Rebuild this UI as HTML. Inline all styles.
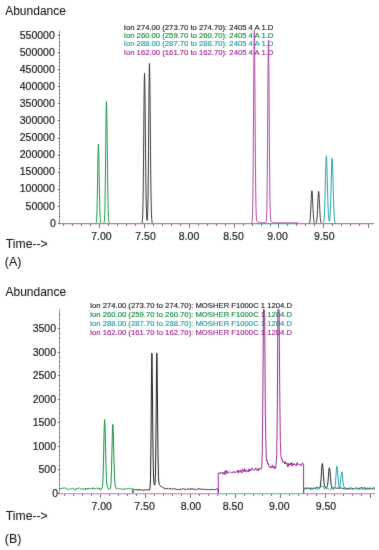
<!DOCTYPE html>
<html><head><meta charset="utf-8"><style>
html,body{margin:0;padding:0;background:#fff;width:379px;height:550px;overflow:hidden}
svg{display:block}
</style></head><body>
<svg width="379" height="550" viewBox="0 0 379 550" font-family="'Liberation Sans', Arial, sans-serif"><defs><filter id="soft" x="0" y="0" width="379" height="550" filterUnits="userSpaceOnUse" color-interpolation-filters="sRGB"><feConvolveMatrix order="3" kernelMatrix="0.012 0.055 0.012 0.055 0.732 0.055 0.012 0.055 0.012" edgeMode="duplicate" preserveAlpha="true"/></filter></defs><g filter="url(#soft)"><rect width="379" height="550" fill="#fff"/><text x="5.2" y="14.8" font-size="12" fill="#151515" stroke="#151515" stroke-width="0.06">Abundance</text>
<rect x="1.3" y="13.3" width="1" height="1" fill="#aaa"/>
<line x1="59.5" y1="30.5" x2="59.5" y2="223.5" stroke="#9a9a9a" stroke-width="1"/>
<line x1="58.0" y1="223.5" x2="60.0" y2="223.5" stroke="#555" stroke-width="1"/>
<line x1="59.0" y1="220.5" x2="60.0" y2="220.5" stroke="#555" stroke-width="1"/>
<line x1="59.0" y1="216.5" x2="60.0" y2="216.5" stroke="#555" stroke-width="1"/>
<line x1="59.0" y1="213.5" x2="60.0" y2="213.5" stroke="#555" stroke-width="1"/>
<line x1="59.0" y1="209.5" x2="60.0" y2="209.5" stroke="#555" stroke-width="1"/>
<line x1="58.0" y1="206.5" x2="60.0" y2="206.5" stroke="#555" stroke-width="1"/>
<line x1="59.0" y1="202.5" x2="60.0" y2="202.5" stroke="#555" stroke-width="1"/>
<line x1="59.0" y1="199.5" x2="60.0" y2="199.5" stroke="#555" stroke-width="1"/>
<line x1="59.0" y1="196.5" x2="60.0" y2="196.5" stroke="#555" stroke-width="1"/>
<line x1="59.0" y1="192.5" x2="60.0" y2="192.5" stroke="#555" stroke-width="1"/>
<line x1="58.0" y1="189.5" x2="60.0" y2="189.5" stroke="#555" stroke-width="1"/>
<line x1="59.0" y1="185.5" x2="60.0" y2="185.5" stroke="#555" stroke-width="1"/>
<line x1="59.0" y1="182.5" x2="60.0" y2="182.5" stroke="#555" stroke-width="1"/>
<line x1="59.0" y1="179.5" x2="60.0" y2="179.5" stroke="#555" stroke-width="1"/>
<line x1="59.0" y1="175.5" x2="60.0" y2="175.5" stroke="#555" stroke-width="1"/>
<line x1="58.0" y1="172.5" x2="60.0" y2="172.5" stroke="#555" stroke-width="1"/>
<line x1="59.0" y1="168.5" x2="60.0" y2="168.5" stroke="#555" stroke-width="1"/>
<line x1="59.0" y1="165.5" x2="60.0" y2="165.5" stroke="#555" stroke-width="1"/>
<line x1="59.0" y1="161.5" x2="60.0" y2="161.5" stroke="#555" stroke-width="1"/>
<line x1="59.0" y1="158.5" x2="60.0" y2="158.5" stroke="#555" stroke-width="1"/>
<line x1="58.0" y1="155.5" x2="60.0" y2="155.5" stroke="#555" stroke-width="1"/>
<line x1="59.0" y1="151.5" x2="60.0" y2="151.5" stroke="#555" stroke-width="1"/>
<line x1="59.0" y1="148.5" x2="60.0" y2="148.5" stroke="#555" stroke-width="1"/>
<line x1="59.0" y1="144.5" x2="60.0" y2="144.5" stroke="#555" stroke-width="1"/>
<line x1="59.0" y1="141.5" x2="60.0" y2="141.5" stroke="#555" stroke-width="1"/>
<line x1="58.0" y1="138.5" x2="60.0" y2="138.5" stroke="#555" stroke-width="1"/>
<line x1="59.0" y1="134.5" x2="60.0" y2="134.5" stroke="#555" stroke-width="1"/>
<line x1="59.0" y1="131.5" x2="60.0" y2="131.5" stroke="#555" stroke-width="1"/>
<line x1="59.0" y1="127.5" x2="60.0" y2="127.5" stroke="#555" stroke-width="1"/>
<line x1="59.0" y1="124.5" x2="60.0" y2="124.5" stroke="#555" stroke-width="1"/>
<line x1="58.0" y1="120.5" x2="60.0" y2="120.5" stroke="#555" stroke-width="1"/>
<line x1="59.0" y1="117.5" x2="60.0" y2="117.5" stroke="#555" stroke-width="1"/>
<line x1="59.0" y1="114.5" x2="60.0" y2="114.5" stroke="#555" stroke-width="1"/>
<line x1="59.0" y1="110.5" x2="60.0" y2="110.5" stroke="#555" stroke-width="1"/>
<line x1="59.0" y1="107.5" x2="60.0" y2="107.5" stroke="#555" stroke-width="1"/>
<line x1="58.0" y1="103.5" x2="60.0" y2="103.5" stroke="#555" stroke-width="1"/>
<line x1="59.0" y1="100.5" x2="60.0" y2="100.5" stroke="#555" stroke-width="1"/>
<line x1="59.0" y1="97.5" x2="60.0" y2="97.5" stroke="#555" stroke-width="1"/>
<line x1="59.0" y1="93.5" x2="60.0" y2="93.5" stroke="#555" stroke-width="1"/>
<line x1="59.0" y1="90.5" x2="60.0" y2="90.5" stroke="#555" stroke-width="1"/>
<line x1="58.0" y1="86.5" x2="60.0" y2="86.5" stroke="#555" stroke-width="1"/>
<line x1="59.0" y1="83.5" x2="60.0" y2="83.5" stroke="#555" stroke-width="1"/>
<line x1="59.0" y1="79.5" x2="60.0" y2="79.5" stroke="#555" stroke-width="1"/>
<line x1="59.0" y1="76.5" x2="60.0" y2="76.5" stroke="#555" stroke-width="1"/>
<line x1="59.0" y1="73.5" x2="60.0" y2="73.5" stroke="#555" stroke-width="1"/>
<line x1="58.0" y1="69.5" x2="60.0" y2="69.5" stroke="#555" stroke-width="1"/>
<line x1="59.0" y1="66.5" x2="60.0" y2="66.5" stroke="#555" stroke-width="1"/>
<line x1="59.0" y1="62.5" x2="60.0" y2="62.5" stroke="#555" stroke-width="1"/>
<line x1="59.0" y1="59.5" x2="60.0" y2="59.5" stroke="#555" stroke-width="1"/>
<line x1="59.0" y1="56.5" x2="60.0" y2="56.5" stroke="#555" stroke-width="1"/>
<line x1="58.0" y1="52.5" x2="60.0" y2="52.5" stroke="#555" stroke-width="1"/>
<line x1="59.0" y1="49.5" x2="60.0" y2="49.5" stroke="#555" stroke-width="1"/>
<line x1="59.0" y1="45.5" x2="60.0" y2="45.5" stroke="#555" stroke-width="1"/>
<line x1="59.0" y1="42.5" x2="60.0" y2="42.5" stroke="#555" stroke-width="1"/>
<line x1="59.0" y1="38.5" x2="60.0" y2="38.5" stroke="#555" stroke-width="1"/>
<line x1="58.0" y1="35.5" x2="60.0" y2="35.5" stroke="#555" stroke-width="1"/>
<line x1="59.5" y1="223.5" x2="373.3" y2="223.5" stroke="#9a9a9a" stroke-width="1"/>
<text x="55.8" y="226.66" font-size="10.5" text-anchor="end" fill="#151515" stroke="#151515" stroke-width="0.16">0</text>
<text x="54.8" y="209.57" font-size="10.5" text-anchor="end" fill="#151515" stroke="#151515" stroke-width="0.16">50000</text>
<text x="54.8" y="192.48" font-size="10.5" text-anchor="end" fill="#151515" stroke="#151515" stroke-width="0.16">100000</text>
<text x="54.8" y="175.39" font-size="10.5" text-anchor="end" fill="#151515" stroke="#151515" stroke-width="0.16">150000</text>
<text x="54.8" y="158.30" font-size="10.5" text-anchor="end" fill="#151515" stroke="#151515" stroke-width="0.16">200000</text>
<text x="54.8" y="141.21" font-size="10.5" text-anchor="end" fill="#151515" stroke="#151515" stroke-width="0.16">250000</text>
<text x="54.8" y="124.12" font-size="10.5" text-anchor="end" fill="#151515" stroke="#151515" stroke-width="0.16">300000</text>
<text x="54.8" y="107.03" font-size="10.5" text-anchor="end" fill="#151515" stroke="#151515" stroke-width="0.16">350000</text>
<text x="54.8" y="89.94" font-size="10.5" text-anchor="end" fill="#151515" stroke="#151515" stroke-width="0.16">400000</text>
<text x="54.8" y="72.85" font-size="10.5" text-anchor="end" fill="#151515" stroke="#151515" stroke-width="0.16">450000</text>
<text x="54.8" y="55.76" font-size="10.5" text-anchor="end" fill="#151515" stroke="#151515" stroke-width="0.16">500000</text>
<text x="54.8" y="38.67" font-size="10.5" text-anchor="end" fill="#151515" stroke="#151515" stroke-width="0.16">550000</text>
<text x="101.35" y="239.8" font-size="10.5" text-anchor="middle" fill="#151515" stroke="#151515" stroke-width="0.16">7.00</text>
<text x="145.50" y="239.8" font-size="10.5" text-anchor="middle" fill="#151515" stroke="#151515" stroke-width="0.16">7.50</text>
<text x="189.05" y="239.8" font-size="10.5" text-anchor="middle" fill="#151515" stroke="#151515" stroke-width="0.16">8.00</text>
<text x="233.50" y="239.8" font-size="10.5" text-anchor="middle" fill="#151515" stroke="#151515" stroke-width="0.16">8.50</text>
<text x="277.50" y="239.8" font-size="10.5" text-anchor="middle" fill="#151515" stroke="#151515" stroke-width="0.16">9.00</text>
<text x="324.25" y="239.8" font-size="10.5" text-anchor="middle" fill="#151515" stroke="#151515" stroke-width="0.16">9.50</text>
<text x="5.8" y="248" font-size="12.2" fill="#151515" stroke="#151515" stroke-width="0.06">Time--&gt;</text>
<text x="4.8" y="265.8" font-size="12.4" fill="#151515" stroke="#151515" stroke-width="0.06">(A)</text>
<text x="123.8" y="29.50" font-size="7.7" fill="#1a1a1a" stroke="#1a1a1a" stroke-width="0.14">Ion 274.00 (273.70 to 274.70): 2405 4 A 1.D</text>
<text x="123.8" y="37.85" font-size="7.7" fill="#138a3a" stroke="#138a3a" stroke-width="0.14">Ion 260.00 (259.70 to 260.70): 2405 4 A 1.D</text>
<text x="123.8" y="46.20" font-size="7.7" fill="#1a98a0" stroke="#1a98a0" stroke-width="0.14">Ion 288.00 (287.70 to 288.70): 2405 4 A 1.D</text>
<text x="123.8" y="54.55" font-size="7.7" fill="#9a2690" stroke="#9a2690" stroke-width="0.14">Ion 162.00 (161.70 to 162.70): 2405 4 A 1.D</text>
<g fill="none" stroke-width="1.0" stroke-linejoin="round">
<path stroke="#3a3a3a" d="M59.50,223.50L59.75,223.50L60.00,223.50L60.25,223.50L60.50,223.50L60.75,223.50L61.00,223.50L61.25,223.50L61.50,223.50L61.75,223.50L62.00,223.50L62.25,223.50L62.50,223.50L62.75,223.50L63.00,223.50L63.25,223.50L63.50,223.50L63.75,223.50L64.00,223.50L64.25,223.50L64.50,223.50L64.75,223.50L65.00,223.50L65.25,223.50L65.50,223.50L65.75,223.50L66.00,223.50L66.25,223.50L66.50,223.50L66.75,223.50L67.00,223.50L67.25,223.50L67.50,223.50L67.75,223.50L68.00,223.50L68.25,223.50L68.50,223.50L68.75,223.50L69.00,223.50L69.25,223.50L69.50,223.50L69.75,223.50L70.00,223.50L70.25,223.50L70.50,223.50L70.75,223.50L71.00,223.50L71.25,223.50L71.50,223.50L71.75,223.50L72.00,223.50L72.25,223.50L72.50,223.50L72.75,223.50L73.00,223.50L73.25,223.50L73.50,223.50L73.75,223.50L74.00,223.50L74.25,223.50L74.50,223.50L74.75,223.50L75.00,223.50L75.25,223.50L75.50,223.50L75.75,223.50L76.00,223.50L76.25,223.50L76.50,223.50L76.75,223.50L77.00,223.50L77.25,223.50L77.50,223.50L77.75,223.50L78.00,223.50L78.25,223.50L78.50,223.50L78.75,223.50L79.00,223.50L79.25,223.50L79.50,223.50L79.75,223.50L80.00,223.50L80.25,223.50L80.50,223.50L80.75,223.50L81.00,223.50L81.25,223.50L81.50,223.50L81.75,223.50L82.00,223.50L82.25,223.50L82.50,223.50L82.75,223.50L83.00,223.50L83.25,223.50L83.50,223.50L83.75,223.50L84.00,223.50L84.25,223.50L84.50,223.50L84.75,223.50L85.00,223.50L85.25,223.50L85.50,223.50L85.75,223.50L86.00,223.50L86.25,223.50L86.50,223.50L86.75,223.50L87.00,223.50L87.25,223.50L87.50,223.50L87.75,223.50L88.00,223.50L88.25,223.50L88.50,223.50L88.75,223.50L89.00,223.50L89.25,223.50L89.50,223.50L89.75,223.50L90.00,223.50L90.25,223.50L90.50,223.50L90.75,223.50L91.00,223.50L91.25,223.50L91.50,223.50L91.75,223.50L92.00,223.50L92.25,223.50L92.50,223.50L92.75,223.50L93.00,223.50L93.25,223.50L93.50,223.50L93.75,223.50L94.00,223.50L94.25,223.50L94.50,223.50L94.75,223.50L95.00,223.50L95.25,223.50L95.50,223.50L95.75,223.50L96.00,223.50L96.25,223.50L96.50,223.50L96.75,223.50L97.00,223.50L97.25,223.50L97.50,223.50L97.75,223.50L98.00,223.50L98.25,223.50L98.50,223.50L98.75,223.50L99.00,223.50L99.25,223.50L99.50,223.50L99.75,223.50L100.00,223.50L100.25,223.50L100.50,223.50L100.75,223.50L101.00,223.50L101.25,223.50L101.50,223.50L101.75,223.50L102.00,223.50L102.25,223.50L102.50,223.50L102.75,223.50L103.00,223.50L103.25,223.50L103.50,223.50L103.75,223.50L104.00,223.50L104.25,223.50L104.50,223.50L104.75,223.50L105.00,223.50L105.25,223.50L105.50,223.50L105.75,223.50L106.00,223.50L106.25,223.50L106.50,223.50L106.75,223.50L107.00,223.50L107.25,223.50L107.50,223.50L107.75,223.50L108.00,223.50L108.25,223.50L108.50,223.50L108.75,223.50L109.00,223.50L109.25,223.50L109.50,223.50L109.75,223.50L110.00,223.50L110.25,223.50L110.50,223.50L110.75,223.50L111.00,223.50L111.25,223.50L111.50,223.50L111.75,223.50L112.00,223.50L112.25,223.50L112.50,223.50L112.75,223.50L113.00,223.50L113.25,223.50L113.50,223.50L113.75,223.50L114.00,223.50L114.25,223.50L114.50,223.50L114.75,223.50L115.00,223.50L115.25,223.50L115.50,223.50L115.75,223.50L116.00,223.50L116.25,223.50L116.50,223.50L116.75,223.50L117.00,223.50L117.25,223.50L117.50,223.50L117.75,223.50L118.00,223.50L118.25,223.50L118.50,223.50L118.75,223.50L119.00,223.50L119.25,223.50L119.50,223.50L119.75,223.50L120.00,223.50L120.25,223.50L120.50,223.50L120.75,223.50L121.00,223.50L121.25,223.50L121.50,223.50L121.75,223.50L122.00,223.50L122.25,223.50L122.50,223.50L122.75,223.50L123.00,223.50L123.25,223.50L123.50,223.50L123.75,223.50L124.00,223.50L124.25,223.50L124.50,223.50L124.75,223.50L125.00,223.50L125.25,223.50L125.50,223.50L125.75,223.50L126.00,223.50L126.25,223.50L126.50,223.50L126.75,223.50L127.00,223.50L127.25,223.50L127.50,223.50L127.75,223.50L128.00,223.50L128.25,223.50L128.50,223.50L128.75,223.50L129.00,223.50L129.25,223.50L129.50,223.50L129.75,223.50L130.00,223.50L130.25,223.50L130.50,223.50L130.75,223.50L131.00,223.50L131.25,223.50L131.50,223.50L131.75,223.50L132.00,223.50L132.25,223.50L132.50,223.50L132.75,223.50L133.00,223.50L133.25,223.50L133.50,223.50L133.75,223.50L134.00,223.50L134.25,223.50L134.50,223.50L134.75,223.50L135.00,223.50L135.25,223.50L135.50,223.50L135.75,223.50L136.00,223.50L136.25,223.50L136.50,223.50L136.75,223.50L137.00,223.50L137.25,223.50L137.50,223.50L137.75,223.50L138.00,223.50L138.25,223.50L138.50,223.50L138.75,223.50L139.00,223.50L139.25,223.50L139.50,223.50L139.75,223.50L140.00,223.50L140.25,223.50L140.50,223.50L140.75,223.50L141.00,223.50L141.25,223.50L141.50,223.45L141.75,223.33L142.00,222.95L142.25,221.90L142.50,219.36L142.75,213.94L143.00,203.72L143.25,186.88L143.50,162.85L143.75,133.61L144.00,104.27L144.25,82.00L144.50,73.22L144.51,73.21L144.75,79.06L145.00,96.18L145.25,120.57L145.50,147.18L145.75,171.61L146.00,191.13L146.25,204.97L146.50,213.72L146.75,218.57L147.00,220.63L147.25,220.40L147.50,217.52L147.75,210.69L148.00,198.02L148.25,177.87L148.50,150.31L148.75,118.44L149.00,88.55L149.25,68.38L149.44,63.40L149.50,63.82L149.75,73.81L150.00,94.80L150.25,122.01L150.50,150.11L150.75,174.82L151.00,193.89L151.25,206.98L151.50,215.05L151.75,219.53L152.00,221.79L152.25,222.83L152.50,223.26L152.75,223.42L153.00,223.48L153.25,223.50L153.50,223.50L153.75,223.50L154.00,223.50L154.25,223.50L154.50,223.50L154.75,223.50L155.00,223.50L155.25,223.50L155.50,223.50L155.75,223.50L156.00,223.50L156.25,223.50L156.50,223.50L156.75,223.50L157.00,223.50L157.25,223.50L157.50,223.50L157.75,223.50L158.00,223.50L158.25,223.50L158.50,223.50L158.75,223.50L159.00,223.50L159.25,223.50L159.50,223.50L159.75,223.50L160.00,223.50L160.25,223.50L160.50,223.50L160.75,223.50L161.00,223.50L161.25,223.50L161.50,223.50L161.75,223.50L162.00,223.50L162.25,223.50L162.50,223.50L162.75,223.50L163.00,223.50L163.25,223.50L163.50,223.50L163.75,223.50L164.00,223.50L164.25,223.50L164.50,223.50L164.75,223.50L165.00,223.50L165.25,223.50L165.50,223.50L165.75,223.50L166.00,223.50L166.25,223.50L166.50,223.50L166.75,223.50L167.00,223.50L167.25,223.50L167.50,223.50L167.75,223.50L168.00,223.50L168.25,223.50L168.50,223.50L168.75,223.50L169.00,223.50L169.25,223.50L169.50,223.50L169.75,223.50L170.00,223.50L170.25,223.50L170.50,223.50L170.75,223.50L171.00,223.50L171.25,223.50L171.50,223.50L171.75,223.50L172.00,223.50L172.25,223.50L172.50,223.50L172.75,223.50L173.00,223.50L173.25,223.50L173.50,223.50L173.75,223.50L174.00,223.50L174.25,223.50L174.50,223.50L174.75,223.50L175.00,223.50L175.25,223.50L175.50,223.50L175.75,223.50L176.00,223.50L176.25,223.50L176.50,223.50L176.75,223.50L177.00,223.50L177.25,223.50L177.50,223.50L177.75,223.50L178.00,223.50L178.25,223.50L178.50,223.50L178.75,223.50L179.00,223.50L179.25,223.50L179.50,223.50L179.75,223.50L180.00,223.50L180.25,223.50L180.50,223.50L180.75,223.50L181.00,223.50L181.25,223.50L181.50,223.50L181.75,223.50L182.00,223.50L182.25,223.50L182.50,223.50L182.75,223.50L183.00,223.50L183.25,223.50L183.50,223.50L183.75,223.50L184.00,223.50L184.25,223.50L184.50,223.50L184.75,223.50L185.00,223.50L185.25,223.50L185.50,223.50L185.75,223.50L186.00,223.50L186.25,223.50L186.50,223.50L186.75,223.50L187.00,223.50L187.25,223.50L187.50,223.50L187.75,223.50L188.00,223.50L188.25,223.50L188.50,223.50L188.75,223.50L189.00,223.50L189.25,223.50L189.50,223.50L189.75,223.50L190.00,223.50L190.25,223.50L190.50,223.50L190.75,223.50L191.00,223.50L191.25,223.50L191.50,223.50L191.75,223.50L192.00,223.50L192.25,223.50L192.50,223.50L192.75,223.50L193.00,223.50L193.25,223.50L193.50,223.50L193.75,223.50L194.00,223.50L194.25,223.50L194.50,223.50L194.75,223.50L195.00,223.50L195.25,223.50L195.50,223.50L195.75,223.50L196.00,223.50L196.25,223.50L196.50,223.50L196.75,223.50L197.00,223.50L197.25,223.50L197.50,223.50L197.75,223.50L198.00,223.50L198.25,223.50L198.50,223.50L198.75,223.50L199.00,223.50L199.25,223.50L199.50,223.50L199.75,223.50L200.00,223.50L200.25,223.50L200.50,223.50L200.75,223.50L201.00,223.50L201.25,223.50L201.50,223.50L201.75,223.50L202.00,223.50L202.25,223.50L202.50,223.50L202.75,223.50L203.00,223.50L203.25,223.50L203.50,223.50L203.75,223.50L204.00,223.50L204.25,223.50L204.50,223.50L204.75,223.50L205.00,223.50L205.25,223.50L205.50,223.50L205.75,223.50L206.00,223.50L206.25,223.50L206.50,223.50L206.75,223.50L207.00,223.50L207.25,223.50L207.50,223.50L207.75,223.50L208.00,223.50L208.25,223.50L208.50,223.50L208.75,223.50L209.00,223.50L209.25,223.50L209.50,223.50L209.75,223.50L210.00,223.50L210.25,223.50L210.50,223.50L210.75,223.50L211.00,223.50L211.25,223.50L211.50,223.50L211.75,223.50L212.00,223.50L212.25,223.50L212.50,223.50L212.75,223.50L213.00,223.50L213.25,223.50L213.50,223.50L213.75,223.50L214.00,223.50L214.25,223.50L214.50,223.50L214.75,223.50L215.00,223.50L215.25,223.50L215.50,223.50L215.75,223.50L216.00,223.50L216.25,223.50L216.50,223.50L216.75,223.50L217.00,223.50L217.25,223.50L217.50,223.50L217.75,223.50L218.00,223.50L218.25,223.50L218.50,223.50L218.75,223.50L219.00,223.50L219.25,223.50L219.50,223.50L219.75,223.50L220.00,223.50L220.25,223.50L220.50,223.50L220.75,223.50L221.00,223.50L221.25,223.50L221.50,223.50L221.75,223.50L222.00,223.50L222.25,223.50L222.50,223.50L222.75,223.50L223.00,223.50L223.25,223.50L223.50,223.50L223.75,223.50L224.00,223.50L224.25,223.50L224.50,223.50L224.75,223.50L225.00,223.50L225.25,223.50L225.50,223.50L225.75,223.50L226.00,223.50L226.25,223.50L226.50,223.50L226.75,223.50L227.00,223.50L227.25,223.50L227.50,223.50L227.75,223.50L228.00,223.50L228.25,223.50L228.50,223.50L228.75,223.50L229.00,223.50L229.25,223.50L229.50,223.50L229.75,223.50L230.00,223.50L230.25,223.50L230.50,223.50L230.75,223.50L231.00,223.50L231.25,223.50L231.50,223.50L231.75,223.50L232.00,223.50L232.25,223.50L232.50,223.50L232.75,223.50L233.00,223.50L233.25,223.50L233.50,223.50L233.75,223.50L234.00,223.50L234.25,223.50L234.50,223.50L234.75,223.50L235.00,223.50L235.25,223.50L235.50,223.50L235.75,223.50L236.00,223.50L236.25,223.50L236.50,223.50L236.75,223.50L237.00,223.50L237.25,223.50L237.50,223.50L237.75,223.50L238.00,223.50L238.25,223.50L238.50,223.50L238.75,223.50L239.00,223.50L239.25,223.50L239.50,223.50L239.75,223.50L240.00,223.50L240.25,223.50L240.50,223.50L240.75,223.50L241.00,223.50L241.25,223.50L241.50,223.50L241.75,223.50L242.00,223.50L242.25,223.50L242.50,223.50L242.75,223.50L243.00,223.50L243.25,223.50L243.50,223.50L243.75,223.50L244.00,223.50L244.25,223.50L244.50,223.50L244.75,223.50L245.00,223.50L245.25,223.50L245.50,223.50L245.75,223.50L246.00,223.50L246.25,223.50L246.50,223.50L246.75,223.50L247.00,223.50L247.25,223.50L247.50,223.50L247.75,223.50L248.00,223.50L248.25,223.50L248.50,223.50L248.75,223.50L249.00,223.50L249.25,223.50L249.50,223.50L249.75,223.50L250.00,223.50L250.25,223.50L250.50,223.50L250.75,223.50L251.00,223.50L251.25,223.50L251.50,223.50L251.75,223.50L252.00,223.50L252.25,223.50L252.50,223.50L252.75,223.50L253.00,223.50L253.25,223.50L253.50,223.50L253.75,223.50L254.00,223.50L254.25,223.50L254.50,223.50L254.75,223.50L255.00,223.50L255.25,223.50L255.50,223.50L255.75,223.50L256.00,223.50L256.25,223.50L256.50,223.50L256.75,223.50L257.00,223.50L257.25,223.50L257.50,223.50L257.75,223.50L258.00,223.50L258.25,223.50L258.50,223.50L258.75,223.50L259.00,223.50L259.25,223.50L259.50,223.50L259.75,223.50L260.00,223.50L260.25,223.50L260.50,223.50L260.75,223.50L261.00,223.50L261.25,223.50L261.50,223.50L261.75,223.50L262.00,223.50L262.25,223.50L262.50,223.50L262.75,223.50L263.00,223.50L263.25,223.50L263.50,223.50L263.75,223.50L264.00,223.50L264.25,223.50L264.50,223.50L264.75,223.50L265.00,223.50L265.25,223.50L265.50,223.50L265.75,223.50L266.00,223.50L266.25,223.50L266.50,223.50L266.75,223.50L267.00,223.50L267.25,223.50L267.50,223.50L267.75,223.50L268.00,223.50L268.25,223.50L268.50,223.50L268.75,223.50L269.00,223.50L269.25,223.50L269.50,223.50L269.75,223.50L270.00,223.50L270.25,223.50L270.50,223.50L270.75,223.50L271.00,223.50L271.25,223.50L271.50,223.50L271.75,223.50L272.00,223.50L272.25,223.50L272.50,223.50L272.75,223.50L273.00,223.50L273.25,223.50L273.50,223.50L273.75,223.50L274.00,223.50L274.25,223.50L274.50,223.50L274.75,223.50L275.00,223.50L275.25,223.50L275.50,223.50L275.75,223.50L276.00,223.50L276.25,223.50L276.50,223.50L276.75,223.50L277.00,223.50L277.25,223.50L277.50,223.50L277.75,223.50L278.00,223.50L278.25,223.50L278.50,223.50L278.75,223.50L279.00,223.50L279.25,223.50L279.50,223.50L279.75,223.50L280.00,223.50L280.25,223.50L280.50,223.50L280.75,223.50L281.00,223.50L281.25,223.50L281.50,223.50L281.75,223.50L282.00,223.50L282.25,223.50L282.50,223.50L282.75,223.50L283.00,223.50L283.25,223.50L283.50,223.50L283.75,223.50L284.00,223.50L284.25,223.50L284.50,223.50L284.75,223.50L285.00,223.50L285.25,223.50L285.50,223.50L285.75,223.50L286.00,223.50L286.25,223.50L286.50,223.50L286.75,223.50L287.00,223.50L287.25,223.50L287.50,223.50L287.75,223.50L288.00,223.50L288.25,223.50L288.50,223.50L288.75,223.50L289.00,223.50L289.25,223.50L289.50,223.50L289.75,223.50L290.00,223.50L290.25,223.50L290.50,223.50L290.75,223.50L291.00,223.50L291.25,223.50L291.50,223.50L291.75,223.50L292.00,223.50L292.25,223.50L292.50,223.50L292.75,223.50L293.00,223.50L293.25,223.50L293.50,223.50L293.75,223.50L294.00,223.50L294.25,223.50L294.50,223.50L294.75,223.50L295.00,223.50L295.25,223.50L295.50,223.50L295.75,223.50L296.00,223.50L296.25,223.50L296.50,223.50L296.75,223.50L297.00,223.50L297.25,223.50L297.50,223.50L297.75,223.50L298.00,223.50L298.25,223.50L298.50,223.50L298.75,223.50L299.00,223.50L299.25,223.50L299.50,223.50L299.75,223.50L300.00,223.50L300.25,223.50L300.50,223.50L300.75,223.50L301.00,223.50L301.25,223.50L301.50,223.50L301.75,223.50L302.00,223.50L302.25,223.50L302.50,223.50L302.75,223.50L303.00,223.50L303.25,223.50L303.50,223.50L303.75,223.50L304.00,223.50L304.25,223.50L304.50,223.50L304.75,223.50L305.00,223.50L305.25,223.50L305.50,223.50L305.75,223.50L306.00,223.50L306.25,223.50L306.50,223.50L306.75,223.50L307.00,223.50L307.25,223.50L307.50,223.50L307.75,223.50L308.00,223.50L308.25,223.50L308.50,223.50L308.75,223.46L309.00,223.40L309.25,223.23L309.50,222.86L309.75,222.09L310.00,220.68L310.25,218.32L310.50,214.78L310.75,210.02L311.00,204.39L311.25,198.65L311.50,193.88L311.75,191.11L311.88,190.71L312.00,190.98L312.25,193.32L312.50,197.57L312.75,202.88L313.00,208.32L313.25,213.15L313.50,216.97L313.75,219.68L314.00,221.44L314.25,222.47L314.50,223.02L314.75,223.29L315.00,223.41L315.25,223.46L315.50,223.45L315.75,223.38L316.00,223.20L316.25,222.80L316.50,221.99L316.75,220.50L317.00,218.05L317.25,214.41L317.50,209.60L317.75,203.99L318.00,198.40L318.25,193.89L318.50,191.46L318.60,191.22L318.75,191.65L319.00,194.21L319.25,198.57L319.50,203.85L319.75,209.17L320.00,213.82L320.25,217.45L320.50,220.00L320.75,221.62L321.00,222.57L321.25,223.07L321.50,223.32L321.75,223.43L322.00,223.47L322.25,223.50L322.50,223.50L322.75,223.50L323.00,223.50L323.25,223.50L323.50,223.50L323.75,223.50L324.00,223.50L324.25,223.50L324.50,223.50L324.75,223.50L325.00,223.50L325.25,223.50L325.50,223.50L325.75,223.50L326.00,223.50L326.25,223.50L326.50,223.50L326.75,223.50L327.00,223.50L327.25,223.50L327.50,223.50L327.75,223.50L328.00,223.50L328.25,223.50L328.50,223.50L328.75,223.50L329.00,223.50L329.25,223.50L329.50,223.50L329.75,223.50L330.00,223.50L330.25,223.50L330.50,223.50L330.75,223.50L331.00,223.50L331.25,223.50L331.50,223.50L331.75,223.50L332.00,223.50L332.25,223.50L332.50,223.50L332.75,223.50L333.00,223.50L333.25,223.50L333.50,223.50L333.75,223.50L334.00,223.50L334.25,223.50L334.50,223.50L334.75,223.50L335.00,223.50L335.25,223.50L335.50,223.50L335.75,223.50L336.00,223.50L336.25,223.50L336.50,223.50L336.75,223.50L337.00,223.50L337.25,223.50L337.50,223.50L337.75,223.50L338.00,223.50L338.25,223.50L338.50,223.50L338.75,223.50L339.00,223.50L339.25,223.50L339.50,223.50L339.75,223.50L340.00,223.50L340.25,223.50L340.50,223.50L340.75,223.50L341.00,223.50L341.25,223.50L341.50,223.50L341.75,223.50L342.00,223.50L342.25,223.50L342.50,223.50L342.75,223.50L343.00,223.50L343.25,223.50L343.50,223.50L343.75,223.50L344.00,223.50L344.25,223.50L344.50,223.50L344.75,223.50L345.00,223.50L345.25,223.50L345.50,223.50L345.75,223.50L346.00,223.50L346.25,223.50L346.50,223.50L346.75,223.50L347.00,223.50L347.25,223.50L347.50,223.50L347.75,223.50L348.00,223.50L348.25,223.50L348.50,223.50L348.75,223.50L349.00,223.50L349.25,223.50L349.50,223.50L349.75,223.50L350.00,223.50L350.25,223.50L350.50,223.50L350.75,223.50L351.00,223.50L351.25,223.50L351.50,223.50L351.75,223.50L352.00,223.50L352.25,223.50L352.50,223.50L352.75,223.50L353.00,223.50L353.25,223.50L353.50,223.50L353.75,223.50L354.00,223.50L354.25,223.50L354.50,223.50L354.75,223.50L355.00,223.50L355.25,223.50L355.50,223.50L355.75,223.50L356.00,223.50L356.25,223.50L356.50,223.50L356.75,223.50L357.00,223.50L357.25,223.50L357.50,223.50L357.75,223.50L358.00,223.50L358.25,223.50L358.50,223.50L358.75,223.50L359.00,223.50L359.25,223.50L359.50,223.50L359.75,223.50L360.00,223.50L360.25,223.50L360.50,223.50L360.75,223.50L361.00,223.50L361.25,223.50L361.50,223.50L361.75,223.50L362.00,223.50L362.25,223.50L362.50,223.50L362.75,223.50L363.00,223.50L363.25,223.50L363.50,223.50L363.75,223.50L364.00,223.50L364.25,223.50L364.50,223.50L364.75,223.50L365.00,223.50L365.25,223.50L365.50,223.50L365.75,223.50L366.00,223.50L366.25,223.50L366.50,223.50L366.75,223.50L367.00,223.50L367.25,223.50L367.50,223.50L367.75,223.50L368.00,223.50L368.25,223.50L368.50,223.50L368.75,223.50L369.00,223.50L369.25,223.50L369.50,223.50L369.75,223.50L370.00,223.50L370.25,223.50L370.50,223.50L370.75,223.50L371.00,223.50L371.25,223.50L371.50,223.50L371.75,223.50L372.00,223.50L372.25,223.50L372.50,223.50L372.75,223.50L373.00,223.50L373.25,223.50"/>
<line x1="59.50" y1="223.5" x2="141.25" y2="223.5" stroke="#3a3a3a"/>
<line x1="153.25" y1="223.5" x2="308.50" y2="223.5" stroke="#3a3a3a"/>
<line x1="322.25" y1="223.5" x2="373.25" y2="223.5" stroke="#3a3a3a"/>
<path stroke="#1f9a4c" d="M59.50,223.50L59.75,223.50L60.00,223.50L60.25,223.50L60.50,223.50L60.75,223.50L61.00,223.50L61.25,223.50L61.50,223.50L61.75,223.50L62.00,223.50L62.25,223.50L62.50,223.50L62.75,223.50L63.00,223.50L63.25,223.50L63.50,223.50L63.75,223.50L64.00,223.50L64.25,223.50L64.50,223.50L64.75,223.50L65.00,223.50L65.25,223.50L65.50,223.50L65.75,223.50L66.00,223.50L66.25,223.50L66.50,223.50L66.75,223.50L67.00,223.50L67.25,223.50L67.50,223.50L67.75,223.50L68.00,223.50L68.25,223.50L68.50,223.50L68.75,223.50L69.00,223.50L69.25,223.50L69.50,223.50L69.75,223.50L70.00,223.50L70.25,223.50L70.50,223.50L70.75,223.50L71.00,223.50L71.25,223.50L71.50,223.50L71.75,223.50L72.00,223.50L72.25,223.50L72.50,223.50L72.75,223.50L73.00,223.50L73.25,223.50L73.50,223.50L73.75,223.50L74.00,223.50L74.25,223.50L74.50,223.50L74.75,223.50L75.00,223.50L75.25,223.50L75.50,223.50L75.75,223.50L76.00,223.50L76.25,223.50L76.50,223.50L76.75,223.50L77.00,223.50L77.25,223.50L77.50,223.50L77.75,223.50L78.00,223.50L78.25,223.50L78.50,223.50L78.75,223.50L79.00,223.50L79.25,223.50L79.50,223.50L79.75,223.50L80.00,223.50L80.25,223.50L80.50,223.50L80.75,223.50L81.00,223.50L81.25,223.50L81.50,223.50L81.75,223.50L82.00,223.50L82.25,223.50L82.50,223.50L82.75,223.50L83.00,223.50L83.25,223.50L83.50,223.50L83.75,223.50L84.00,223.50L84.25,223.50L84.50,223.50L84.75,223.50L85.00,223.50L85.25,223.50L85.50,223.50L85.75,223.50L86.00,223.50L86.25,223.50L86.50,223.50L86.75,223.50L87.00,223.50L87.25,223.50L87.50,223.50L87.75,223.50L88.00,223.50L88.25,223.50L88.50,223.50L88.75,223.50L89.00,223.50L89.25,223.50L89.50,223.50L89.75,223.50L90.00,223.50L90.25,223.50L90.50,223.50L90.75,223.50L91.00,223.50L91.25,223.50L91.50,223.50L91.75,223.50L92.00,223.50L92.25,223.50L92.50,223.50L92.75,223.50L93.00,223.50L93.25,223.50L93.50,223.50L93.75,223.50L94.00,223.50L94.25,223.50L94.50,223.50L94.75,223.50L95.00,223.50L95.25,223.50L95.50,223.47L95.75,223.39L96.00,223.14L96.25,222.44L96.50,220.74L96.75,217.10L97.00,210.37L97.25,199.60L97.50,184.95L97.75,168.38L98.00,153.64L98.25,145.02L98.37,143.99L98.50,145.09L98.75,152.62L99.00,165.39L99.25,180.29L99.50,194.36L99.75,205.68L100.00,213.61L100.25,218.53L100.50,221.23L100.75,222.56L101.00,223.15L101.25,223.38L101.50,223.46L101.75,223.50L102.00,223.50L102.25,223.50L102.50,223.50L102.75,223.50L103.00,223.50L103.25,223.50L103.50,223.44L103.75,223.29L104.00,222.86L104.25,221.72L104.50,219.06L104.75,213.59L105.00,203.71L105.25,188.15L105.50,166.99L105.75,142.66L106.00,120.03L106.25,104.99L106.43,101.51L106.50,101.92L106.75,109.84L107.00,126.04L107.25,146.87L107.50,168.23L107.75,186.94L108.00,201.32L108.25,211.16L108.50,217.21L108.75,220.55L109.00,222.24L109.25,223.00L109.50,223.32L109.75,223.44L110.00,223.50L110.25,223.50L110.50,223.50L110.75,223.50L111.00,223.50L111.25,223.50L111.50,223.50L111.75,223.50L112.00,223.50L112.25,223.50L112.50,223.50L112.75,223.50L113.00,223.50L113.25,223.50L113.50,223.50L113.75,223.50L114.00,223.50L114.25,223.50L114.50,223.50L114.75,223.50L115.00,223.50L115.25,223.50L115.50,223.50L115.75,223.50L116.00,223.50L116.25,223.50L116.50,223.50L116.75,223.50L117.00,223.50L117.25,223.50L117.50,223.50L117.75,223.50L118.00,223.50L118.25,223.50L118.50,223.50L118.75,223.50L119.00,223.50L119.25,223.50L119.50,223.50L119.75,223.50L120.00,223.50L120.25,223.50L120.50,223.50L120.75,223.50L121.00,223.50L121.25,223.50L121.50,223.50L121.75,223.50L122.00,223.50L122.25,223.50L122.50,223.50L122.75,223.50L123.00,223.50L123.25,223.50L123.50,223.50L123.75,223.50L124.00,223.50L124.25,223.50L124.50,223.50L124.75,223.50L125.00,223.50L125.25,223.50L125.50,223.50L125.75,223.50L126.00,223.50L126.25,223.50L126.50,223.50L126.75,223.50L127.00,223.50L127.25,223.50L127.50,223.50L127.75,223.50L128.00,223.50L128.25,223.50L128.50,223.50L128.75,223.50L129.00,223.50L129.25,223.50L129.50,223.50L129.75,223.50L130.00,223.50L130.25,223.50L130.50,223.50L130.75,223.50L131.00,223.50L131.25,223.50L131.50,223.50L131.75,223.50L132.00,223.50L132.25,223.50L132.50,223.50L132.75,223.50L133.00,223.50L133.25,223.50L133.50,223.50L133.75,223.50L134.00,223.50L134.25,223.50L134.50,223.50L134.75,223.50L135.00,223.50L135.25,223.50L135.50,223.50L135.75,223.50L136.00,223.50L136.25,223.50L136.50,223.50L136.75,223.50L137.00,223.50L137.25,223.50L137.50,223.50L137.75,223.50L138.00,223.50L138.25,223.50L138.50,223.50L138.75,223.50L139.00,223.50L139.25,223.50L139.50,223.50L139.75,223.50L140.00,223.50L140.25,223.50L140.50,223.50L140.75,223.50L141.00,223.50L141.25,223.50L141.50,223.50L141.75,223.50L142.00,223.50L142.25,223.50L142.50,223.50L142.75,223.50L143.00,223.50L143.25,223.50L143.50,223.50L143.75,223.50L144.00,223.50L144.25,223.50L144.50,223.50L144.75,223.50L145.00,223.50L145.25,223.50L145.50,223.50L145.75,223.50L146.00,223.50L146.25,223.50L146.50,223.50L146.75,223.50L147.00,223.50L147.25,223.50L147.50,223.50L147.75,223.50L148.00,223.50L148.25,223.50L148.50,223.50L148.75,223.50L149.00,223.50L149.25,223.50L149.50,223.50L149.75,223.50L150.00,223.50L150.25,223.50L150.50,223.50L150.75,223.50L151.00,223.50L151.25,223.50L151.50,223.50L151.75,223.50L152.00,223.50L152.25,223.50L152.50,223.50L152.75,223.50L153.00,223.50L153.25,223.50L153.50,223.50L153.75,223.50L154.00,223.50L154.25,223.50L154.50,223.50L154.75,223.50L155.00,223.50L155.25,223.50L155.50,223.50L155.75,223.50L156.00,223.50L156.25,223.50L156.50,223.50L156.75,223.50L157.00,223.50L157.25,223.50L157.50,223.50L157.75,223.50L158.00,223.50L158.25,223.50L158.50,223.50L158.75,223.50L159.00,223.50L159.25,223.50L159.50,223.50L159.75,223.50L160.00,223.50L160.25,223.50L160.50,223.50L160.75,223.50L161.00,223.50L161.25,223.50L161.50,223.50L161.75,223.50L162.00,223.50L162.25,223.50L162.50,223.50L162.75,223.50L163.00,223.50L163.25,223.50L163.50,223.50L163.75,223.50L164.00,223.50L164.25,223.50L164.50,223.50L164.75,223.50L165.00,223.50L165.25,223.50L165.50,223.50L165.75,223.50L166.00,223.50L166.25,223.50L166.50,223.50L166.75,223.50L167.00,223.50L167.25,223.50L167.50,223.50L167.75,223.50L168.00,223.50L168.25,223.50L168.50,223.50L168.75,223.50L169.00,223.50L169.25,223.50L169.50,223.50L169.75,223.50L170.00,223.50L170.25,223.50L170.50,223.50L170.75,223.50L171.00,223.50L171.25,223.50L171.50,223.50L171.75,223.50L172.00,223.50L172.25,223.50L172.50,223.50L172.75,223.50L173.00,223.50L173.25,223.50L173.50,223.50L173.75,223.50L174.00,223.50L174.25,223.50L174.50,223.50L174.75,223.50L175.00,223.50L175.25,223.50L175.50,223.50L175.75,223.50L176.00,223.50L176.25,223.50L176.50,223.50L176.75,223.50L177.00,223.50L177.25,223.50L177.50,223.50L177.75,223.50L178.00,223.50L178.25,223.50L178.50,223.50L178.75,223.50L179.00,223.50L179.25,223.50L179.50,223.50L179.75,223.50L180.00,223.50L180.25,223.50L180.50,223.50L180.75,223.50L181.00,223.50L181.25,223.50L181.50,223.50L181.75,223.50L182.00,223.50L182.25,223.50L182.50,223.50L182.75,223.50L183.00,223.50L183.25,223.50L183.50,223.50L183.75,223.50L184.00,223.50L184.25,223.50L184.50,223.50L184.75,223.50L185.00,223.50L185.25,223.50L185.50,223.50L185.75,223.50L186.00,223.50L186.25,223.50L186.50,223.50L186.75,223.50L187.00,223.50L187.25,223.50L187.50,223.50L187.75,223.50L188.00,223.50L188.25,223.50L188.50,223.50L188.75,223.50L189.00,223.50L189.25,223.50L189.50,223.50L189.75,223.50L190.00,223.50L190.25,223.50L190.50,223.50L190.75,223.50L191.00,223.50L191.25,223.50L191.50,223.50L191.75,223.50L192.00,223.50L192.25,223.50L192.50,223.50L192.75,223.50L193.00,223.50L193.25,223.50L193.50,223.50L193.75,223.50L194.00,223.50L194.25,223.50L194.50,223.50L194.75,223.50L195.00,223.50L195.25,223.50L195.50,223.50L195.75,223.50L196.00,223.50L196.25,223.50L196.50,223.50L196.75,223.50L197.00,223.50L197.25,223.50L197.50,223.50L197.75,223.50L198.00,223.50L198.25,223.50L198.50,223.50L198.75,223.50L199.00,223.50L199.25,223.50L199.50,223.50L199.75,223.50L200.00,223.50L200.25,223.50L200.50,223.50L200.75,223.50L201.00,223.50L201.25,223.50L201.50,223.50L201.75,223.50L202.00,223.50L202.25,223.50L202.50,223.50L202.75,223.50L203.00,223.50L203.25,223.50L203.50,223.50L203.75,223.50L204.00,223.50L204.25,223.50L204.50,223.50L204.75,223.50L205.00,223.50L205.25,223.50L205.50,223.50L205.75,223.50L206.00,223.50L206.25,223.50L206.50,223.50L206.75,223.50L207.00,223.50L207.25,223.50L207.50,223.50L207.75,223.50L208.00,223.50L208.25,223.50L208.50,223.50L208.75,223.50L209.00,223.50L209.25,223.50L209.50,223.50L209.75,223.50L210.00,223.50L210.25,223.50L210.50,223.50L210.75,223.50L211.00,223.50L211.25,223.50L211.50,223.50L211.75,223.50L212.00,223.50L212.25,223.50L212.50,223.50L212.75,223.50L213.00,223.50L213.25,223.50L213.50,223.50L213.75,223.50L214.00,223.50L214.25,223.50L214.50,223.50L214.75,223.50L215.00,223.50L215.25,223.50L215.50,223.50L215.75,223.50L216.00,223.50L216.25,223.50L216.50,223.50L216.75,223.50L217.00,223.50L217.25,223.50L217.50,223.50L217.75,223.50L218.00,223.50L218.25,223.50L218.50,223.50L218.75,223.50L219.00,223.50L219.25,223.50L219.50,223.50L219.75,223.50L220.00,223.50L220.25,223.50L220.50,223.50L220.75,223.50L221.00,223.50L221.25,223.50L221.50,223.50L221.75,223.50L222.00,223.50L222.25,223.50L222.50,223.50L222.75,223.50L223.00,223.50L223.25,223.50L223.50,223.50L223.75,223.50L224.00,223.50L224.25,223.50L224.50,223.50L224.75,223.50L225.00,223.50L225.25,223.50L225.50,223.50L225.75,223.50L226.00,223.50L226.25,223.50L226.50,223.50L226.75,223.50L227.00,223.50L227.25,223.50L227.50,223.50L227.75,223.50L228.00,223.50L228.25,223.50L228.50,223.50L228.75,223.50L229.00,223.50L229.25,223.50L229.50,223.50L229.75,223.50L230.00,223.50L230.25,223.50L230.50,223.50L230.75,223.50L231.00,223.50L231.25,223.50L231.50,223.50L231.75,223.50L232.00,223.50L232.25,223.50L232.50,223.50L232.75,223.50L233.00,223.50L233.25,223.50L233.50,223.50L233.75,223.50L234.00,223.50L234.25,223.50L234.50,223.50L234.75,223.50L235.00,223.50L235.25,223.50L235.50,223.50L235.75,223.50L236.00,223.50L236.25,223.50L236.50,223.50L236.75,223.50L237.00,223.50L237.25,223.50L237.50,223.50L237.75,223.50L238.00,223.50L238.25,223.50L238.50,223.50L238.75,223.50L239.00,223.50L239.25,223.50L239.50,223.50L239.75,223.50L240.00,223.50L240.25,223.50L240.50,223.50L240.75,223.50L241.00,223.50L241.25,223.50L241.50,223.50L241.75,223.50L242.00,223.50L242.25,223.50L242.50,223.50L242.75,223.50L243.00,223.50L243.25,223.50L243.50,223.50L243.75,223.50L244.00,223.50L244.25,223.50L244.50,223.50L244.75,223.50L245.00,223.50L245.25,223.50L245.50,223.50L245.75,223.50L246.00,223.50L246.25,223.50L246.50,223.50L246.75,223.50L247.00,223.50L247.25,223.50L247.50,223.50L247.75,223.50L248.00,223.50L248.25,223.50L248.50,223.50L248.75,223.50L249.00,223.50L249.25,223.50L249.50,223.50L249.75,223.50L250.00,223.50L250.25,223.50L250.50,223.50L250.75,223.50L251.00,223.50L251.25,223.50L251.50,223.50L251.75,223.50L252.00,223.50L252.25,223.50L252.50,223.50L252.75,223.50L253.00,223.50L253.25,223.50L253.50,223.50L253.75,223.50L254.00,223.50L254.25,223.50L254.50,223.50L254.75,223.50L255.00,223.50L255.25,223.50L255.50,223.50L255.75,223.50L256.00,223.50L256.25,223.50L256.50,223.50L256.75,223.50L257.00,223.50L257.25,223.50L257.50,223.50L257.75,223.50L258.00,223.50L258.25,223.50L258.50,223.50L258.75,223.50L259.00,223.50L259.25,223.50L259.50,223.50L259.75,223.50L260.00,223.50L260.25,223.50L260.50,223.50L260.75,223.50L261.00,223.50L261.25,223.50L261.50,223.50L261.75,223.50L262.00,223.50L262.25,223.50L262.50,223.50L262.75,223.50L263.00,223.50L263.25,223.50L263.50,223.50L263.75,223.50L264.00,223.50L264.25,223.50L264.50,223.50L264.75,223.50L265.00,223.50L265.25,223.50L265.50,223.50L265.75,223.50L266.00,223.50L266.25,223.50L266.50,223.50L266.75,223.50L267.00,223.50L267.25,223.50L267.50,223.50L267.75,223.50L268.00,223.50L268.25,223.50L268.50,223.50L268.75,223.50L269.00,223.50L269.25,223.50L269.50,223.50L269.75,223.50L270.00,223.50L270.25,223.50L270.50,223.50L270.75,223.50L271.00,223.50L271.25,223.50L271.50,223.50L271.75,223.50L272.00,223.50L272.25,223.50L272.50,223.50L272.75,223.50L273.00,223.50L273.25,223.50L273.50,223.50L273.75,223.50L274.00,223.50L274.25,223.50L274.50,223.50L274.75,223.50L275.00,223.50L275.25,223.50L275.50,223.50L275.75,223.50L276.00,223.50L276.25,223.50L276.50,223.50L276.75,223.50L277.00,223.50L277.25,223.50L277.50,223.50L277.75,223.50L278.00,223.50L278.25,223.50L278.50,223.50L278.75,223.50L279.00,223.50L279.25,223.50L279.50,223.50L279.75,223.50L280.00,223.50L280.25,223.50L280.50,223.50L280.75,223.50L281.00,223.50L281.25,223.50L281.50,223.50L281.75,223.50L282.00,223.50L282.25,223.50L282.50,223.50L282.75,223.50L283.00,223.50L283.25,223.50L283.50,223.50L283.75,223.50L284.00,223.50L284.25,223.50L284.50,223.50L284.75,223.50L285.00,223.50L285.25,223.50L285.50,223.50L285.75,223.50L286.00,223.50L286.25,223.50L286.50,223.50L286.75,223.50L287.00,223.50L287.25,223.50L287.50,223.50L287.75,223.50L288.00,223.50L288.25,223.50L288.50,223.50L288.75,223.50L289.00,223.50L289.25,223.50L289.50,223.50L289.75,223.50L290.00,223.50L290.25,223.50L290.50,223.50L290.75,223.50L291.00,223.50L291.25,223.50L291.50,223.50L291.75,223.50L292.00,223.50L292.25,223.50L292.50,223.50L292.75,223.50L293.00,223.50L293.25,223.50L293.50,223.50L293.75,223.50L294.00,223.50L294.25,223.50L294.50,223.50L294.75,223.50L295.00,223.50L295.25,223.50L295.50,223.50L295.75,223.50L296.00,223.50L296.25,223.50L296.50,223.50L296.75,223.50L297.00,223.50L297.25,223.50L297.50,223.50L297.75,223.50L298.00,223.50L298.25,223.50L298.50,223.50L298.75,223.50L299.00,223.50L299.25,223.50L299.50,223.50L299.75,223.50L300.00,223.50L300.25,223.50L300.50,223.50L300.75,223.50L301.00,223.50L301.25,223.50L301.50,223.50L301.75,223.50L302.00,223.50L302.25,223.50L302.50,223.50L302.75,223.50L303.00,223.50L303.25,223.50L303.50,223.50L303.75,223.50L304.00,223.50L304.25,223.50L304.50,223.50L304.75,223.50L305.00,223.50L305.25,223.50L305.50,223.50L305.75,223.50L306.00,223.50L306.25,223.50L306.50,223.50L306.75,223.50L307.00,223.50L307.25,223.50L307.50,223.50L307.75,223.50L308.00,223.50L308.25,223.50L308.50,223.50L308.75,223.50L309.00,223.50L309.25,223.50L309.50,223.50L309.75,223.50L310.00,223.50L310.25,223.50L310.50,223.50L310.75,223.50L311.00,223.50L311.25,223.50L311.50,223.50L311.75,223.50L312.00,223.50L312.25,223.50L312.50,223.50L312.75,223.50L313.00,223.50L313.25,223.50L313.50,223.50L313.75,223.50L314.00,223.50L314.25,223.50L314.50,223.50L314.75,223.50L315.00,223.50L315.25,223.50L315.50,223.50L315.75,223.50L316.00,223.50L316.25,223.50L316.50,223.50L316.75,223.50L317.00,223.50L317.25,223.50L317.50,223.50L317.75,223.50L318.00,223.50L318.25,223.50L318.50,223.50L318.75,223.50L319.00,223.50L319.25,223.50L319.50,223.50L319.75,223.50L320.00,223.50L320.25,223.50L320.50,223.50L320.75,223.50L321.00,223.50L321.25,223.50L321.50,223.50L321.75,223.50L322.00,223.50L322.25,223.50L322.50,223.50L322.75,223.50L323.00,223.50L323.25,223.50L323.50,223.50L323.75,223.50L324.00,223.50L324.25,223.50L324.50,223.50L324.75,223.50L325.00,223.50L325.25,223.50L325.50,223.50L325.75,223.50L326.00,223.50L326.25,223.50L326.50,223.50L326.75,223.50L327.00,223.50L327.25,223.50L327.50,223.50L327.75,223.50L328.00,223.50L328.25,223.50L328.50,223.50L328.75,223.50L329.00,223.50L329.25,223.50L329.50,223.50L329.75,223.50L330.00,223.50L330.25,223.50L330.50,223.50L330.75,223.50L331.00,223.50L331.25,223.50L331.50,223.50L331.75,223.50L332.00,223.50L332.25,223.50L332.50,223.50L332.75,223.50L333.00,223.50L333.25,223.50L333.50,223.50L333.75,223.50L334.00,223.50L334.25,223.50L334.50,223.50L334.75,223.50L335.00,223.50L335.25,223.50L335.50,223.50L335.75,223.50L336.00,223.50L336.25,223.50L336.50,223.50L336.75,223.50L337.00,223.50L337.25,223.50L337.50,223.50L337.75,223.50L338.00,223.50L338.25,223.50L338.50,223.50L338.75,223.50L339.00,223.50L339.25,223.50L339.50,223.50L339.75,223.50L340.00,223.50L340.25,223.50L340.50,223.50L340.75,223.50L341.00,223.50L341.25,223.50L341.50,223.50L341.75,223.50L342.00,223.50L342.25,223.50L342.50,223.50L342.75,223.50L343.00,223.50L343.25,223.50L343.50,223.50L343.75,223.50L344.00,223.50L344.25,223.50L344.50,223.50L344.75,223.50L345.00,223.50L345.25,223.50L345.50,223.50L345.75,223.50L346.00,223.50L346.25,223.50L346.50,223.50L346.75,223.50L347.00,223.50L347.25,223.50L347.50,223.50L347.75,223.50L348.00,223.50L348.25,223.50L348.50,223.50L348.75,223.50L349.00,223.50L349.25,223.50L349.50,223.50L349.75,223.50L350.00,223.50L350.25,223.50L350.50,223.50L350.75,223.50L351.00,223.50L351.25,223.50L351.50,223.50L351.75,223.50L352.00,223.50L352.25,223.50L352.50,223.50L352.75,223.50L353.00,223.50L353.25,223.50L353.50,223.50L353.75,223.50L354.00,223.50L354.25,223.50L354.50,223.50L354.75,223.50L355.00,223.50L355.25,223.50L355.50,223.50L355.75,223.50L356.00,223.50L356.25,223.50L356.50,223.50L356.75,223.50L357.00,223.50L357.25,223.50L357.50,223.50L357.75,223.50L358.00,223.50L358.25,223.50L358.50,223.50L358.75,223.50L359.00,223.50L359.25,223.50L359.50,223.50L359.75,223.50L360.00,223.50L360.25,223.50L360.50,223.50L360.75,223.50L361.00,223.50L361.25,223.50L361.50,223.50L361.75,223.50L362.00,223.50L362.25,223.50L362.50,223.50L362.75,223.50L363.00,223.50L363.25,223.50L363.50,223.50L363.75,223.50L364.00,223.50L364.25,223.50L364.50,223.50L364.75,223.50L365.00,223.50L365.25,223.50L365.50,223.50L365.75,223.50L366.00,223.50L366.25,223.50L366.50,223.50L366.75,223.50L367.00,223.50L367.25,223.50L367.50,223.50L367.75,223.50L368.00,223.50L368.25,223.50L368.50,223.50L368.75,223.50L369.00,223.50L369.25,223.50L369.50,223.50L369.75,223.50L370.00,223.50L370.25,223.50L370.50,223.50L370.75,223.50L371.00,223.50L371.25,223.50L371.50,223.50L371.75,223.50L372.00,223.50L372.25,223.50L372.50,223.50L372.75,223.50L373.00,223.50L373.25,223.50"/>
<line x1="59.50" y1="223.5" x2="95.25" y2="223.5" stroke="#1f9a4c"/>
<line x1="101.75" y1="223.5" x2="103.25" y2="223.5" stroke="#1f9a4c"/>
<line x1="110.00" y1="223.5" x2="373.25" y2="223.5" stroke="#1f9a4c"/>
<path stroke="#22a6ad" d="M59.50,223.50L59.75,223.50L60.00,223.50L60.25,223.50L60.50,223.50L60.75,223.50L61.00,223.50L61.25,223.50L61.50,223.50L61.75,223.50L62.00,223.50L62.25,223.50L62.50,223.50L62.75,223.50L63.00,223.50L63.25,223.50L63.50,223.50L63.75,223.50L64.00,223.50L64.25,223.50L64.50,223.50L64.75,223.50L65.00,223.50L65.25,223.50L65.50,223.50L65.75,223.50L66.00,223.50L66.25,223.50L66.50,223.50L66.75,223.50L67.00,223.50L67.25,223.50L67.50,223.50L67.75,223.50L68.00,223.50L68.25,223.50L68.50,223.50L68.75,223.50L69.00,223.50L69.25,223.50L69.50,223.50L69.75,223.50L70.00,223.50L70.25,223.50L70.50,223.50L70.75,223.50L71.00,223.50L71.25,223.50L71.50,223.50L71.75,223.50L72.00,223.50L72.25,223.50L72.50,223.50L72.75,223.50L73.00,223.50L73.25,223.50L73.50,223.50L73.75,223.50L74.00,223.50L74.25,223.50L74.50,223.50L74.75,223.50L75.00,223.50L75.25,223.50L75.50,223.50L75.75,223.50L76.00,223.50L76.25,223.50L76.50,223.50L76.75,223.50L77.00,223.50L77.25,223.50L77.50,223.50L77.75,223.50L78.00,223.50L78.25,223.50L78.50,223.50L78.75,223.50L79.00,223.50L79.25,223.50L79.50,223.50L79.75,223.50L80.00,223.50L80.25,223.50L80.50,223.50L80.75,223.50L81.00,223.50L81.25,223.50L81.50,223.50L81.75,223.50L82.00,223.50L82.25,223.50L82.50,223.50L82.75,223.50L83.00,223.50L83.25,223.50L83.50,223.50L83.75,223.50L84.00,223.50L84.25,223.50L84.50,223.50L84.75,223.50L85.00,223.50L85.25,223.50L85.50,223.50L85.75,223.50L86.00,223.50L86.25,223.50L86.50,223.50L86.75,223.50L87.00,223.50L87.25,223.50L87.50,223.50L87.75,223.50L88.00,223.50L88.25,223.50L88.50,223.50L88.75,223.50L89.00,223.50L89.25,223.50L89.50,223.50L89.75,223.50L90.00,223.50L90.25,223.50L90.50,223.50L90.75,223.50L91.00,223.50L91.25,223.50L91.50,223.50L91.75,223.50L92.00,223.50L92.25,223.50L92.50,223.50L92.75,223.50L93.00,223.50L93.25,223.50L93.50,223.50L93.75,223.50L94.00,223.50L94.25,223.50L94.50,223.50L94.75,223.50L95.00,223.50L95.25,223.50L95.50,223.50L95.75,223.50L96.00,223.50L96.25,223.50L96.50,223.50L96.75,223.50L97.00,223.50L97.25,223.50L97.50,223.50L97.75,223.50L98.00,223.50L98.25,223.50L98.50,223.50L98.75,223.50L99.00,223.50L99.25,223.50L99.50,223.50L99.75,223.50L100.00,223.50L100.25,223.50L100.50,223.50L100.75,223.50L101.00,223.50L101.25,223.50L101.50,223.50L101.75,223.50L102.00,223.50L102.25,223.50L102.50,223.50L102.75,223.50L103.00,223.50L103.25,223.50L103.50,223.50L103.75,223.50L104.00,223.50L104.25,223.50L104.50,223.50L104.75,223.50L105.00,223.50L105.25,223.50L105.50,223.50L105.75,223.50L106.00,223.50L106.25,223.50L106.50,223.50L106.75,223.50L107.00,223.50L107.25,223.50L107.50,223.50L107.75,223.50L108.00,223.50L108.25,223.50L108.50,223.50L108.75,223.50L109.00,223.50L109.25,223.50L109.50,223.50L109.75,223.50L110.00,223.50L110.25,223.50L110.50,223.50L110.75,223.50L111.00,223.50L111.25,223.50L111.50,223.50L111.75,223.50L112.00,223.50L112.25,223.50L112.50,223.50L112.75,223.50L113.00,223.50L113.25,223.50L113.50,223.50L113.75,223.50L114.00,223.50L114.25,223.50L114.50,223.50L114.75,223.50L115.00,223.50L115.25,223.50L115.50,223.50L115.75,223.50L116.00,223.50L116.25,223.50L116.50,223.50L116.75,223.50L117.00,223.50L117.25,223.50L117.50,223.50L117.75,223.50L118.00,223.50L118.25,223.50L118.50,223.50L118.75,223.50L119.00,223.50L119.25,223.50L119.50,223.50L119.75,223.50L120.00,223.50L120.25,223.50L120.50,223.50L120.75,223.50L121.00,223.50L121.25,223.50L121.50,223.50L121.75,223.50L122.00,223.50L122.25,223.50L122.50,223.50L122.75,223.50L123.00,223.50L123.25,223.50L123.50,223.50L123.75,223.50L124.00,223.50L124.25,223.50L124.50,223.50L124.75,223.50L125.00,223.50L125.25,223.50L125.50,223.50L125.75,223.50L126.00,223.50L126.25,223.50L126.50,223.50L126.75,223.50L127.00,223.50L127.25,223.50L127.50,223.50L127.75,223.50L128.00,223.50L128.25,223.50L128.50,223.50L128.75,223.50L129.00,223.50L129.25,223.50L129.50,223.50L129.75,223.50L130.00,223.50L130.25,223.50L130.50,223.50L130.75,223.50L131.00,223.50L131.25,223.50L131.50,223.50L131.75,223.50L132.00,223.50L132.25,223.50L132.50,223.50L132.75,223.50L133.00,223.50L133.25,223.50L133.50,223.50L133.75,223.50L134.00,223.50L134.25,223.50L134.50,223.50L134.75,223.50L135.00,223.50L135.25,223.50L135.50,223.50L135.75,223.50L136.00,223.50L136.25,223.50L136.50,223.50L136.75,223.50L137.00,223.50L137.25,223.50L137.50,223.50L137.75,223.50L138.00,223.50L138.25,223.50L138.50,223.50L138.75,223.50L139.00,223.50L139.25,223.50L139.50,223.50L139.75,223.50L140.00,223.50L140.25,223.50L140.50,223.50L140.75,223.50L141.00,223.50L141.25,223.50L141.50,223.50L141.75,223.50L142.00,223.50L142.25,223.50L142.50,223.50L142.75,223.50L143.00,223.50L143.25,223.50L143.50,223.50L143.75,223.50L144.00,223.50L144.25,223.50L144.50,223.50L144.75,223.50L145.00,223.50L145.25,223.50L145.50,223.50L145.75,223.50L146.00,223.50L146.25,223.50L146.50,223.50L146.75,223.50L147.00,223.50L147.25,223.50L147.50,223.50L147.75,223.50L148.00,223.50L148.25,223.50L148.50,223.50L148.75,223.50L149.00,223.50L149.25,223.50L149.50,223.50L149.75,223.50L150.00,223.50L150.25,223.50L150.50,223.50L150.75,223.50L151.00,223.50L151.25,223.50L151.50,223.50L151.75,223.50L152.00,223.50L152.25,223.50L152.50,223.50L152.75,223.50L153.00,223.50L153.25,223.50L153.50,223.50L153.75,223.50L154.00,223.50L154.25,223.50L154.50,223.50L154.75,223.50L155.00,223.50L155.25,223.50L155.50,223.50L155.75,223.50L156.00,223.50L156.25,223.50L156.50,223.50L156.75,223.50L157.00,223.50L157.25,223.50L157.50,223.50L157.75,223.50L158.00,223.50L158.25,223.50L158.50,223.50L158.75,223.50L159.00,223.50L159.25,223.50L159.50,223.50L159.75,223.50L160.00,223.50L160.25,223.50L160.50,223.50L160.75,223.50L161.00,223.50L161.25,223.50L161.50,223.50L161.75,223.50L162.00,223.50L162.25,223.50L162.50,223.50L162.75,223.50L163.00,223.50L163.25,223.50L163.50,223.50L163.75,223.50L164.00,223.50L164.25,223.50L164.50,223.50L164.75,223.50L165.00,223.50L165.25,223.50L165.50,223.50L165.75,223.50L166.00,223.50L166.25,223.50L166.50,223.50L166.75,223.50L167.00,223.50L167.25,223.50L167.50,223.50L167.75,223.50L168.00,223.50L168.25,223.50L168.50,223.50L168.75,223.50L169.00,223.50L169.25,223.50L169.50,223.50L169.75,223.50L170.00,223.50L170.25,223.50L170.50,223.50L170.75,223.50L171.00,223.50L171.25,223.50L171.50,223.50L171.75,223.50L172.00,223.50L172.25,223.50L172.50,223.50L172.75,223.50L173.00,223.50L173.25,223.50L173.50,223.50L173.75,223.50L174.00,223.50L174.25,223.50L174.50,223.50L174.75,223.50L175.00,223.50L175.25,223.50L175.50,223.50L175.75,223.50L176.00,223.50L176.25,223.50L176.50,223.50L176.75,223.50L177.00,223.50L177.25,223.50L177.50,223.50L177.75,223.50L178.00,223.50L178.25,223.50L178.50,223.50L178.75,223.50L179.00,223.50L179.25,223.50L179.50,223.50L179.75,223.50L180.00,223.50L180.25,223.50L180.50,223.50L180.75,223.50L181.00,223.50L181.25,223.50L181.50,223.50L181.75,223.50L182.00,223.50L182.25,223.50L182.50,223.50L182.75,223.50L183.00,223.50L183.25,223.50L183.50,223.50L183.75,223.50L184.00,223.50L184.25,223.50L184.50,223.50L184.75,223.50L185.00,223.50L185.25,223.50L185.50,223.50L185.75,223.50L186.00,223.50L186.25,223.50L186.50,223.50L186.75,223.50L187.00,223.50L187.25,223.50L187.50,223.50L187.75,223.50L188.00,223.50L188.25,223.50L188.50,223.50L188.75,223.50L189.00,223.50L189.25,223.50L189.50,223.50L189.75,223.50L190.00,223.50L190.25,223.50L190.50,223.50L190.75,223.50L191.00,223.50L191.25,223.50L191.50,223.50L191.75,223.50L192.00,223.50L192.25,223.50L192.50,223.50L192.75,223.50L193.00,223.50L193.25,223.50L193.50,223.50L193.75,223.50L194.00,223.50L194.25,223.50L194.50,223.50L194.75,223.50L195.00,223.50L195.25,223.50L195.50,223.50L195.75,223.50L196.00,223.50L196.25,223.50L196.50,223.50L196.75,223.50L197.00,223.50L197.25,223.50L197.50,223.50L197.75,223.50L198.00,223.50L198.25,223.50L198.50,223.50L198.75,223.50L199.00,223.50L199.25,223.50L199.50,223.50L199.75,223.50L200.00,223.50L200.25,223.50L200.50,223.50L200.75,223.50L201.00,223.50L201.25,223.50L201.50,223.50L201.75,223.50L202.00,223.50L202.25,223.50L202.50,223.50L202.75,223.50L203.00,223.50L203.25,223.50L203.50,223.50L203.75,223.50L204.00,223.50L204.25,223.50L204.50,223.50L204.75,223.50L205.00,223.50L205.25,223.50L205.50,223.50L205.75,223.50L206.00,223.50L206.25,223.50L206.50,223.50L206.75,223.50L207.00,223.50L207.25,223.50L207.50,223.50L207.75,223.50L208.00,223.50L208.25,223.50L208.50,223.50L208.75,223.50L209.00,223.50L209.25,223.50L209.50,223.50L209.75,223.50L210.00,223.50L210.25,223.50L210.50,223.50L210.75,223.50L211.00,223.50L211.25,223.50L211.50,223.50L211.75,223.50L212.00,223.50L212.25,223.50L212.50,223.50L212.75,223.50L213.00,223.50L213.25,223.50L213.50,223.50L213.75,223.50L214.00,223.50L214.25,223.50L214.50,223.50L214.75,223.50L215.00,223.50L215.25,223.50L215.50,223.50L215.75,223.50L216.00,223.50L216.25,223.50L216.50,223.50L216.75,223.50L217.00,223.50L217.25,223.50L217.50,223.50L217.75,223.50L218.00,223.50L218.25,223.50L218.50,223.50L218.75,223.50L219.00,223.50L219.25,223.50L219.50,223.50L219.75,223.50L220.00,223.50L220.25,223.50L220.50,223.50L220.75,223.50L221.00,223.50L221.25,223.50L221.50,223.50L221.75,223.50L222.00,223.50L222.25,223.50L222.50,223.50L222.75,223.50L223.00,223.50L223.25,223.50L223.50,223.50L223.75,223.50L224.00,223.50L224.25,223.50L224.50,223.50L224.75,223.50L225.00,223.50L225.25,223.50L225.50,223.50L225.75,223.50L226.00,223.50L226.25,223.50L226.50,223.50L226.75,223.50L227.00,223.50L227.25,223.50L227.50,223.50L227.75,223.50L228.00,223.50L228.25,223.50L228.50,223.50L228.75,223.50L229.00,223.50L229.25,223.50L229.50,223.50L229.75,223.50L230.00,223.50L230.25,223.50L230.50,223.50L230.75,223.50L231.00,223.50L231.25,223.50L231.50,223.50L231.75,223.50L232.00,223.50L232.25,223.50L232.50,223.50L232.75,223.50L233.00,223.50L233.25,223.50L233.50,223.50L233.75,223.50L234.00,223.50L234.25,223.50L234.50,223.50L234.75,223.50L235.00,223.50L235.25,223.50L235.50,223.50L235.75,223.50L236.00,223.50L236.25,223.50L236.50,223.50L236.75,223.50L237.00,223.50L237.25,223.50L237.50,223.50L237.75,223.50L238.00,223.50L238.25,223.50L238.50,223.50L238.75,223.50L239.00,223.50L239.25,223.50L239.50,223.50L239.75,223.50L240.00,223.50L240.25,223.50L240.50,223.50L240.75,223.50L241.00,223.50L241.25,223.50L241.50,223.50L241.75,223.50L242.00,223.50L242.25,223.50L242.50,223.50L242.75,223.50L243.00,223.50L243.25,223.50L243.50,223.50L243.75,223.50L244.00,223.50L244.25,223.50L244.50,223.50L244.75,223.50L245.00,223.50L245.25,223.50L245.50,223.50L245.75,223.50L246.00,223.50L246.25,223.50L246.50,223.50L246.75,223.50L247.00,223.50L247.25,223.50L247.50,223.50L247.75,223.50L248.00,223.50L248.25,223.50L248.50,223.50L248.75,223.50L249.00,223.50L249.25,223.50L249.50,223.50L249.75,223.50L250.00,223.50L250.25,223.50L250.50,223.50L250.75,223.50L251.00,223.50L251.25,223.50L251.50,223.50L251.75,223.50L252.00,223.50L252.25,223.50L252.50,223.50L252.75,223.50L253.00,223.50L253.25,223.50L253.50,223.50L253.75,223.50L254.00,223.50L254.25,223.50L254.50,223.50L254.75,223.50L255.00,223.50L255.25,223.50L255.50,223.50L255.75,223.50L256.00,223.50L256.25,223.50L256.50,223.50L256.75,223.50L257.00,223.50L257.25,223.50L257.50,223.50L257.75,223.50L258.00,223.50L258.25,223.50L258.50,223.50L258.75,223.50L259.00,223.50L259.25,223.50L259.50,223.50L259.75,223.50L260.00,223.50L260.25,223.50L260.50,223.50L260.75,223.50L261.00,223.50L261.25,223.50L261.50,223.50L261.75,223.50L262.00,223.50L262.25,223.50L262.50,223.50L262.75,223.50L263.00,223.50L263.25,223.50L263.50,223.50L263.75,223.50L264.00,223.50L264.25,223.50L264.50,223.50L264.75,223.50L265.00,223.50L265.25,223.50L265.50,223.50L265.75,223.50L266.00,223.50L266.25,223.50L266.50,223.50L266.75,223.50L267.00,223.50L267.25,223.50L267.50,223.50L267.75,223.50L268.00,223.50L268.25,223.50L268.50,223.50L268.75,223.50L269.00,223.50L269.25,223.50L269.50,223.50L269.75,223.50L270.00,223.50L270.25,223.50L270.50,223.50L270.75,223.50L271.00,223.50L271.25,223.50L271.50,223.50L271.75,223.50L272.00,223.50L272.25,223.50L272.50,223.50L272.75,223.50L273.00,223.50L273.25,223.50L273.50,223.50L273.75,223.50L274.00,223.50L274.25,223.50L274.50,223.50L274.75,223.50L275.00,223.50L275.25,223.50L275.50,223.50L275.75,223.50L276.00,223.50L276.25,223.50L276.50,223.50L276.75,223.50L277.00,223.50L277.25,223.50L277.50,223.50L277.75,223.50L278.00,223.50L278.25,223.50L278.50,223.50L278.75,223.50L279.00,223.50L279.25,223.50L279.50,223.50L279.75,223.50L280.00,223.50L280.25,223.50L280.50,223.50L280.75,223.50L281.00,223.50L281.25,223.50L281.50,223.50L281.75,223.50L282.00,223.50L282.25,223.50L282.50,223.50L282.75,223.50L283.00,223.50L283.25,223.50L283.50,223.50L283.75,223.50L284.00,223.50L284.25,223.50L284.50,223.50L284.75,223.50L285.00,223.50L285.25,223.50L285.50,223.50L285.75,223.50L286.00,223.50L286.25,223.50L286.50,223.50L286.75,223.50L287.00,223.50L287.25,223.50L287.50,223.50L287.75,223.50L288.00,223.50L288.25,223.50L288.50,223.50L288.75,223.50L289.00,223.50L289.25,223.50L289.50,223.50L289.75,223.50L290.00,223.50L290.25,223.50L290.50,223.50L290.75,223.50L291.00,223.50L291.25,223.50L291.50,223.50L291.75,223.50L292.00,223.50L292.25,223.50L292.50,223.50L292.75,223.50L293.00,223.50L293.25,223.50L293.50,223.50L293.75,223.50L294.00,223.50L294.25,223.50L294.50,223.50L294.75,223.50L295.00,223.50L295.25,223.50L295.50,223.50L295.75,223.50L296.00,223.50L296.25,223.50L296.50,223.50L296.75,223.50L297.00,223.50L297.25,223.50L297.50,223.50L297.75,223.50L298.00,223.50L298.25,223.50L298.50,223.50L298.75,223.50L299.00,223.50L299.25,223.50L299.50,223.50L299.75,223.50L300.00,223.50L300.25,223.50L300.50,223.50L300.75,223.50L301.00,223.50L301.25,223.50L301.50,223.50L301.75,223.50L302.00,223.50L302.25,223.50L302.50,223.50L302.75,223.50L303.00,223.50L303.25,223.50L303.50,223.50L303.75,223.50L304.00,223.50L304.25,223.50L304.50,223.50L304.75,223.50L305.00,223.50L305.25,223.50L305.50,223.50L305.75,223.50L306.00,223.50L306.25,223.50L306.50,223.50L306.75,223.50L307.00,223.50L307.25,223.50L307.50,223.50L307.75,223.50L308.00,223.50L308.25,223.50L308.50,223.50L308.75,223.50L309.00,223.50L309.25,223.50L309.50,223.50L309.75,223.50L310.00,223.50L310.25,223.50L310.50,223.50L310.75,223.50L311.00,223.50L311.25,223.50L311.50,223.50L311.75,223.50L312.00,223.50L312.25,223.50L312.50,223.50L312.75,223.50L313.00,223.50L313.25,223.50L313.50,223.50L313.75,223.50L314.00,223.50L314.25,223.50L314.50,223.50L314.75,223.50L315.00,223.50L315.25,223.50L315.50,223.50L315.75,223.50L316.00,223.50L316.25,223.50L316.50,223.50L316.75,223.50L317.00,223.50L317.25,223.50L317.50,223.50L317.75,223.50L318.00,223.50L318.25,223.50L318.50,223.50L318.75,223.50L319.00,223.50L319.25,223.50L319.50,223.50L319.75,223.50L320.00,223.50L320.25,223.50L320.50,223.50L320.75,223.50L321.00,223.50L321.25,223.50L321.50,223.50L321.75,223.50L322.00,223.50L322.25,223.50L322.50,223.48L322.75,223.44L323.00,223.34L323.25,223.12L323.50,222.65L323.75,221.70L324.00,219.97L324.25,217.04L324.50,212.46L324.75,205.90L325.00,197.32L325.25,187.16L325.50,176.44L325.75,166.62L326.00,159.36L326.25,156.01L326.31,155.88L326.50,156.99L326.75,161.59L327.00,169.05L327.25,178.25L327.50,187.97L327.75,197.14L328.00,205.01L328.25,211.23L328.50,215.77L328.75,218.81L329.00,220.58L329.25,221.30L329.50,221.02L329.75,219.64L330.00,216.90L330.25,212.44L330.50,206.02L330.75,197.63L331.00,187.76L331.25,177.41L331.50,168.04L331.75,161.23L332.00,158.26L332.04,158.19L332.25,159.44L332.50,164.09L332.75,171.43L333.00,180.38L333.25,189.76L333.50,198.56L333.75,206.07L334.00,212.00L334.25,216.33L334.50,219.27L334.75,221.15L335.00,222.26L335.25,222.88L335.50,223.21L335.75,223.37L336.00,223.45L336.25,223.48L336.50,223.50L336.75,223.50L337.00,223.50L337.25,223.50L337.50,223.50L337.75,223.50L338.00,223.50L338.25,223.50L338.50,223.50L338.75,223.50L339.00,223.50L339.25,223.50L339.50,223.50L339.75,223.50L340.00,223.50L340.25,223.50L340.50,223.50L340.75,223.50L341.00,223.50L341.25,223.50L341.50,223.50L341.75,223.50L342.00,223.50L342.25,223.50L342.50,223.50L342.75,223.50L343.00,223.50L343.25,223.50L343.50,223.50L343.75,223.50L344.00,223.50L344.25,223.50L344.50,223.50L344.75,223.50L345.00,223.50L345.25,223.50L345.50,223.50L345.75,223.50L346.00,223.50L346.25,223.50L346.50,223.50L346.75,223.50L347.00,223.50L347.25,223.50L347.50,223.50L347.75,223.50L348.00,223.50L348.25,223.50L348.50,223.50L348.75,223.50L349.00,223.50L349.25,223.50L349.50,223.50L349.75,223.50L350.00,223.50L350.25,223.50L350.50,223.50L350.75,223.50L351.00,223.50L351.25,223.50L351.50,223.50L351.75,223.50L352.00,223.50L352.25,223.50L352.50,223.50L352.75,223.50L353.00,223.50L353.25,223.50L353.50,223.50L353.75,223.50L354.00,223.50L354.25,223.50L354.50,223.50L354.75,223.50L355.00,223.50L355.25,223.50L355.50,223.50L355.75,223.50L356.00,223.50L356.25,223.50L356.50,223.50L356.75,223.50L357.00,223.50L357.25,223.50L357.50,223.50L357.75,223.50L358.00,223.50L358.25,223.50L358.50,223.50L358.75,223.50L359.00,223.50L359.25,223.50L359.50,223.50L359.75,223.50L360.00,223.50L360.25,223.50L360.50,223.50L360.75,223.50L361.00,223.50L361.25,223.50L361.50,223.50L361.75,223.50L362.00,223.50L362.25,223.50L362.50,223.50L362.75,223.50L363.00,223.50L363.25,223.50L363.50,223.50L363.75,223.50L364.00,223.50L364.25,223.50L364.50,223.50L364.75,223.50L365.00,223.50L365.25,223.50L365.50,223.50L365.75,223.50L366.00,223.50L366.25,223.50L366.50,223.50L366.75,223.50L367.00,223.50L367.25,223.50L367.50,223.50L367.75,223.50L368.00,223.50L368.25,223.50L368.50,223.50L368.75,223.50L369.00,223.50L369.25,223.50L369.50,223.50L369.75,223.50L370.00,223.50L370.25,223.50L370.50,223.50L370.75,223.50L371.00,223.50L371.25,223.50L371.50,223.50L371.75,223.50L372.00,223.50L372.25,223.50L372.50,223.50L372.75,223.50L373.00,223.50L373.25,223.50"/>
<line x1="59.50" y1="223.5" x2="322.25" y2="223.5" stroke="#4aa8ae"/>
<line x1="59.50" y1="224.5" x2="322.25" y2="224.5" stroke="#cfeaea"/>
<line x1="336.50" y1="223.5" x2="373.25" y2="223.5" stroke="#4aa8ae"/>
<line x1="336.50" y1="224.5" x2="373.25" y2="224.5" stroke="#cfeaea"/>
<path stroke="#b04aa8" d="M59.50,223.50L59.75,223.50L60.00,223.50L60.25,223.50L60.50,223.50L60.75,223.50L61.00,223.50L61.25,223.50L61.50,223.50L61.75,223.50L62.00,223.50L62.25,223.50L62.50,223.50L62.75,223.50L63.00,223.50L63.25,223.50L63.50,223.50L63.75,223.50L64.00,223.50L64.25,223.50L64.50,223.50L64.75,223.50L65.00,223.50L65.25,223.50L65.50,223.50L65.75,223.50L66.00,223.50L66.25,223.50L66.50,223.50L66.75,223.50L67.00,223.50L67.25,223.50L67.50,223.50L67.75,223.50L68.00,223.50L68.25,223.50L68.50,223.50L68.75,223.50L69.00,223.50L69.25,223.50L69.50,223.50L69.75,223.50L70.00,223.50L70.25,223.50L70.50,223.50L70.75,223.50L71.00,223.50L71.25,223.50L71.50,223.50L71.75,223.50L72.00,223.50L72.25,223.50L72.50,223.50L72.75,223.50L73.00,223.50L73.25,223.50L73.50,223.50L73.75,223.50L74.00,223.50L74.25,223.50L74.50,223.50L74.75,223.50L75.00,223.50L75.25,223.50L75.50,223.50L75.75,223.50L76.00,223.50L76.25,223.50L76.50,223.50L76.75,223.50L77.00,223.50L77.25,223.50L77.50,223.50L77.75,223.50L78.00,223.50L78.25,223.50L78.50,223.50L78.75,223.50L79.00,223.50L79.25,223.50L79.50,223.50L79.75,223.50L80.00,223.50L80.25,223.50L80.50,223.50L80.75,223.50L81.00,223.50L81.25,223.50L81.50,223.50L81.75,223.50L82.00,223.50L82.25,223.50L82.50,223.50L82.75,223.50L83.00,223.50L83.25,223.50L83.50,223.50L83.75,223.50L84.00,223.50L84.25,223.50L84.50,223.50L84.75,223.50L85.00,223.50L85.25,223.50L85.50,223.50L85.75,223.50L86.00,223.50L86.25,223.50L86.50,223.50L86.75,223.50L87.00,223.50L87.25,223.50L87.50,223.50L87.75,223.50L88.00,223.50L88.25,223.50L88.50,223.50L88.75,223.50L89.00,223.50L89.25,223.50L89.50,223.50L89.75,223.50L90.00,223.50L90.25,223.50L90.50,223.50L90.75,223.50L91.00,223.50L91.25,223.50L91.50,223.50L91.75,223.50L92.00,223.50L92.25,223.50L92.50,223.50L92.75,223.50L93.00,223.50L93.25,223.50L93.50,223.50L93.75,223.50L94.00,223.50L94.25,223.50L94.50,223.50L94.75,223.50L95.00,223.50L95.25,223.50L95.50,223.50L95.75,223.50L96.00,223.50L96.25,223.50L96.50,223.50L96.75,223.50L97.00,223.50L97.25,223.50L97.50,223.50L97.75,223.50L98.00,223.50L98.25,223.50L98.50,223.50L98.75,223.50L99.00,223.50L99.25,223.50L99.50,223.50L99.75,223.50L100.00,223.50L100.25,223.50L100.50,223.50L100.75,223.50L101.00,223.50L101.25,223.50L101.50,223.50L101.75,223.50L102.00,223.50L102.25,223.50L102.50,223.50L102.75,223.50L103.00,223.50L103.25,223.50L103.50,223.50L103.75,223.50L104.00,223.50L104.25,223.50L104.50,223.50L104.75,223.50L105.00,223.50L105.25,223.50L105.50,223.50L105.75,223.50L106.00,223.50L106.25,223.50L106.50,223.50L106.75,223.50L107.00,223.50L107.25,223.50L107.50,223.50L107.75,223.50L108.00,223.50L108.25,223.50L108.50,223.50L108.75,223.50L109.00,223.50L109.25,223.50L109.50,223.50L109.75,223.50L110.00,223.50L110.25,223.50L110.50,223.50L110.75,223.50L111.00,223.50L111.25,223.50L111.50,223.50L111.75,223.50L112.00,223.50L112.25,223.50L112.50,223.50L112.75,223.50L113.00,223.50L113.25,223.50L113.50,223.50L113.75,223.50L114.00,223.50L114.25,223.50L114.50,223.50L114.75,223.50L115.00,223.50L115.25,223.50L115.50,223.50L115.75,223.50L116.00,223.50L116.25,223.50L116.50,223.50L116.75,223.50L117.00,223.50L117.25,223.50L117.50,223.50L117.75,223.50L118.00,223.50L118.25,223.50L118.50,223.50L118.75,223.50L119.00,223.50L119.25,223.50L119.50,223.50L119.75,223.50L120.00,223.50L120.25,223.50L120.50,223.50L120.75,223.50L121.00,223.50L121.25,223.50L121.50,223.50L121.75,223.50L122.00,223.50L122.25,223.50L122.50,223.50L122.75,223.50L123.00,223.50L123.25,223.50L123.50,223.50L123.75,223.50L124.00,223.50L124.25,223.50L124.50,223.50L124.75,223.50L125.00,223.50L125.25,223.50L125.50,223.50L125.75,223.50L126.00,223.50L126.25,223.50L126.50,223.50L126.75,223.50L127.00,223.50L127.25,223.50L127.50,223.50L127.75,223.50L128.00,223.50L128.25,223.50L128.50,223.50L128.75,223.50L129.00,223.50L129.25,223.50L129.50,223.50L129.75,223.50L130.00,223.50L130.25,223.50L130.50,223.50L130.75,223.50L131.00,223.50L131.25,223.50L131.50,223.50L131.75,223.50L132.00,223.50L132.25,223.50L132.50,223.50L132.75,223.50L133.00,223.50L133.25,223.50L133.50,223.50L133.75,223.50L134.00,223.50L134.25,223.50L134.50,223.50L134.75,223.50L135.00,223.50L135.25,223.50L135.50,223.50L135.75,223.50L136.00,223.50L136.25,223.50L136.50,223.50L136.75,223.50L137.00,223.50L137.25,223.50L137.50,223.50L137.75,223.50L138.00,223.50L138.25,223.50L138.50,223.50L138.75,223.50L139.00,223.50L139.25,223.50L139.50,223.50L139.75,223.50L140.00,223.50L140.25,223.50L140.50,223.50L140.75,223.50L141.00,223.50L141.25,223.50L141.50,223.50L141.75,223.50L142.00,223.50L142.25,223.50L142.50,223.50L142.75,223.50L143.00,223.50L143.25,223.50L143.50,223.50L143.75,223.50L144.00,223.50L144.25,223.50L144.50,223.50L144.75,223.50L145.00,223.50L145.25,223.50L145.50,223.50L145.75,223.50L146.00,223.50L146.25,223.50L146.50,223.50L146.75,223.50L147.00,223.50L147.25,223.50L147.50,223.50L147.75,223.50L148.00,223.50L148.25,223.50L148.50,223.50L148.75,223.50L149.00,223.50L149.25,223.50L149.50,223.50L149.75,223.50L150.00,223.50L150.25,223.50L150.50,223.50L150.75,223.50L151.00,223.50L151.25,223.50L151.50,223.50L151.75,223.50L152.00,223.50L152.25,223.50L152.50,223.50L152.75,223.50L153.00,223.50L153.25,223.50L153.50,223.50L153.75,223.50L154.00,223.50L154.25,223.50L154.50,223.50L154.75,223.50L155.00,223.50L155.25,223.50L155.50,223.50L155.75,223.50L156.00,223.50L156.25,223.50L156.50,223.50L156.75,223.50L157.00,223.50L157.25,223.50L157.50,223.50L157.75,223.50L158.00,223.50L158.25,223.50L158.50,223.50L158.75,223.50L159.00,223.50L159.25,223.50L159.50,223.50L159.75,223.50L160.00,223.50L160.25,223.50L160.50,223.50L160.75,223.50L161.00,223.50L161.25,223.50L161.50,223.50L161.75,223.50L162.00,223.50L162.25,223.50L162.50,223.50L162.75,223.50L163.00,223.50L163.25,223.50L163.50,223.50L163.75,223.50L164.00,223.50L164.25,223.50L164.50,223.50L164.75,223.50L165.00,223.50L165.25,223.50L165.50,223.50L165.75,223.50L166.00,223.50L166.25,223.50L166.50,223.50L166.75,223.50L167.00,223.50L167.25,223.50L167.50,223.50L167.75,223.50L168.00,223.50L168.25,223.50L168.50,223.50L168.75,223.50L169.00,223.50L169.25,223.50L169.50,223.50L169.75,223.50L170.00,223.50L170.25,223.50L170.50,223.50L170.75,223.50L171.00,223.50L171.25,223.50L171.50,223.50L171.75,223.50L172.00,223.50L172.25,223.50L172.50,223.50L172.75,223.50L173.00,223.50L173.25,223.50L173.50,223.50L173.75,223.50L174.00,223.50L174.25,223.50L174.50,223.50L174.75,223.50L175.00,223.50L175.25,223.50L175.50,223.50L175.75,223.50L176.00,223.50L176.25,223.50L176.50,223.50L176.75,223.50L177.00,223.50L177.25,223.50L177.50,223.50L177.75,223.50L178.00,223.50L178.25,223.50L178.50,223.50L178.75,223.50L179.00,223.50L179.25,223.50L179.50,223.50L179.75,223.50L180.00,223.50L180.25,223.50L180.50,223.50L180.75,223.50L181.00,223.50L181.25,223.50L181.50,223.50L181.75,223.50L182.00,223.50L182.25,223.50L182.50,223.50L182.75,223.50L183.00,223.50L183.25,223.50L183.50,223.50L183.75,223.50L184.00,223.50L184.25,223.50L184.50,223.50L184.75,223.50L185.00,223.50L185.25,223.50L185.50,223.50L185.75,223.50L186.00,223.50L186.25,223.50L186.50,223.50L186.75,223.50L187.00,223.50L187.25,223.50L187.50,223.50L187.75,223.50L188.00,223.50L188.25,223.50L188.50,223.50L188.75,223.50L189.00,223.50L189.25,223.50L189.50,223.50L189.75,223.50L190.00,223.50L190.25,223.50L190.50,223.50L190.75,223.50L191.00,223.50L191.25,223.50L191.50,223.50L191.75,223.50L192.00,223.50L192.25,223.50L192.50,223.50L192.75,223.50L193.00,223.50L193.25,223.50L193.50,223.50L193.75,223.50L194.00,223.50L194.25,223.50L194.50,223.50L194.75,223.50L195.00,223.50L195.25,223.50L195.50,223.50L195.75,223.50L196.00,223.50L196.25,223.50L196.50,223.50L196.75,223.50L197.00,223.50L197.25,223.50L197.50,223.50L197.75,223.50L198.00,223.50L198.25,223.50L198.50,223.50L198.75,223.50L199.00,223.50L199.25,223.50L199.50,223.50L199.75,223.50L200.00,223.50L200.25,223.50L200.50,223.50L200.75,223.50L201.00,223.50L201.25,223.50L201.50,223.50L201.75,223.50L202.00,223.50L202.25,223.50L202.50,223.50L202.75,223.50L203.00,223.50L203.25,223.50L203.50,223.50L203.75,223.50L204.00,223.50L204.25,223.50L204.50,223.50L204.75,223.50L205.00,223.50L205.25,223.50L205.50,223.50L205.75,223.50L206.00,223.50L206.25,223.50L206.50,223.50L206.75,223.50L207.00,223.50L207.25,223.50L207.50,223.50L207.75,223.50L208.00,223.50L208.25,223.50L208.50,223.50L208.75,223.50L209.00,223.50L209.25,223.50L209.50,223.50L209.75,223.50L210.00,223.50L210.25,223.50L210.50,223.50L210.75,223.50L211.00,223.50L211.25,223.50L211.50,223.50L211.75,223.50L212.00,223.50L212.25,223.50L212.50,223.50L212.75,223.50L213.00,223.50L213.25,223.50L213.50,223.50L213.75,223.50L214.00,223.50L214.25,223.50L214.50,223.50L214.75,223.50L215.00,223.50L215.25,223.50L215.50,223.50L215.75,223.50L216.00,223.50L216.25,223.50L216.50,223.50L216.75,223.50L217.00,223.50L217.25,223.50L217.50,223.50L217.75,223.50L218.00,223.50L218.25,223.50L218.50,223.50L218.75,223.50L219.00,223.50L219.25,223.50L219.50,223.50L219.75,223.50L220.00,223.50L220.25,223.50L220.50,223.50L220.75,223.50L221.00,223.50L221.25,223.50L221.50,223.50L221.75,223.50L222.00,223.50L222.25,223.50L222.50,223.50L222.75,223.50L223.00,223.50L223.25,223.50L223.50,223.50L223.75,223.50L224.00,223.50L224.25,223.50L224.50,223.50L224.75,223.50L225.00,223.50L225.25,223.50L225.50,223.50L225.75,223.50L226.00,223.50L226.25,223.50L226.50,223.50L226.75,223.50L227.00,223.50L227.25,223.50L227.50,223.50L227.75,223.50L228.00,223.50L228.25,223.50L228.50,223.50L228.75,223.50L229.00,223.50L229.25,223.50L229.50,223.50L229.75,223.50L230.00,223.50L230.25,223.50L230.50,223.50L230.75,223.50L231.00,223.50L231.25,223.50L231.50,223.50L231.75,223.50L232.00,223.50L232.25,223.50L232.50,223.50L232.75,223.50L233.00,223.50L233.25,223.50L233.50,223.50L233.75,223.50L234.00,223.50L234.25,223.50L234.50,223.50L234.75,223.50L235.00,223.50L235.25,223.50L235.50,223.50L235.75,223.50L236.00,223.50L236.25,223.50L236.50,223.50L236.75,223.50L237.00,223.50L237.25,223.50L237.50,223.50L237.75,223.50L238.00,223.50L238.25,223.50L238.50,223.50L238.75,223.50L239.00,223.50L239.25,223.50L239.50,223.50L239.75,223.50L240.00,223.50L240.25,223.50L240.50,223.50L240.75,223.50L241.00,223.50L241.25,223.50L241.50,223.50L241.75,223.50L242.00,223.50L242.25,223.50L242.50,223.50L242.75,223.50L243.00,223.50L243.25,223.50L243.50,223.50L243.75,223.50L244.00,223.50L244.25,223.50L244.50,223.50L244.75,223.50L245.00,223.50L245.25,223.50L245.50,223.50L245.75,223.50L246.00,223.50L246.25,223.50L246.50,223.50L246.75,223.50L247.00,223.50L247.25,223.50L247.50,223.50L247.75,223.50L248.00,223.50L248.25,223.50L248.50,223.50L248.75,223.50L249.00,223.50L249.25,223.50L249.50,223.50L249.75,223.50L250.00,223.50L250.25,223.50L250.50,223.50L250.75,223.50L251.00,223.50L251.25,223.50L251.50,223.42L251.75,223.21L252.00,222.50L252.25,219.67L252.50,214.81L252.75,204.50L253.00,185.66L253.25,156.30L253.50,117.88L253.75,77.02L254.00,44.47L254.25,30.75L254.27,30.66L254.50,39.16L254.75,65.17L255.00,101.37L255.25,138.75L255.50,170.38L255.75,193.13L256.00,207.33L256.25,215.14L256.50,218.96L256.75,220.68L257.00,221.43L257.25,221.77L257.50,221.96L257.75,222.08L258.00,222.18L258.25,222.25L258.50,222.32L258.75,222.37L259.00,222.42L259.25,222.46L259.50,222.49L259.75,222.51L260.00,222.54L260.25,222.56L260.50,222.57L260.75,222.58L261.00,222.59L261.25,222.60L261.50,222.61L261.75,222.62L262.00,222.62L262.25,222.63L262.50,222.63L262.75,222.63L263.00,222.64L263.25,222.64L263.50,222.64L263.75,222.64L264.00,222.64L264.25,222.65L264.50,222.65L264.75,222.65L265.00,222.65L265.25,222.64L265.50,222.62L265.75,222.53L266.00,222.20L266.25,221.20L266.50,218.53L266.75,212.31L267.00,199.82L267.25,178.28L267.50,146.75L267.75,108.37L268.00,71.18L268.25,45.93L268.43,40.18L268.50,41.00L268.75,55.79L269.00,85.07L269.25,120.83L269.50,154.89L269.75,181.95L270.00,200.38L270.25,211.35L270.50,217.12L270.75,219.86L271.00,221.06L271.25,221.59L271.50,221.85L271.75,222.01L272.00,222.12L272.25,222.21L272.50,222.28L272.75,222.34L273.00,222.39L273.25,222.43L273.50,222.47L273.75,222.50L274.00,222.52L274.25,222.54L274.50,222.56L274.75,222.58L275.00,222.59L275.25,222.60L275.50,222.61L275.75,222.61L276.00,222.62L276.25,222.63L276.50,222.63L276.75,222.63L277.00,222.64L277.25,222.64L277.50,222.64L277.75,222.64L278.00,222.64L278.25,222.64L278.50,222.65L278.75,222.65L279.00,222.65L279.25,222.65L279.50,222.65L279.75,222.65L280.00,222.65L280.25,222.65L280.50,222.65L280.75,222.65L281.00,222.65L281.25,222.65L281.50,222.65L281.75,222.65L282.00,222.65L282.25,222.65L282.50,222.65L282.75,222.65L283.00,222.65L283.25,222.65L283.50,222.65L283.75,222.65L284.00,222.65L284.25,222.65L284.50,222.65L284.75,222.65L285.00,222.65L285.25,222.65L285.50,222.65L285.75,222.65L286.00,222.65L286.25,222.65L286.50,222.65L286.75,222.65L287.00,222.65L287.25,222.65L287.50,222.65L287.75,222.65L288.00,222.65L288.25,222.65L288.50,222.65L288.75,222.65L289.00,222.65L289.25,222.65L289.50,222.65L289.75,222.65L290.00,222.65L290.25,222.65L290.50,222.65L290.75,222.65L291.00,222.65L291.25,222.65L291.50,222.65L291.75,222.65L292.00,222.65L292.25,222.65L292.50,222.65L292.75,222.65L293.00,222.65L293.25,222.65L293.50,222.65L293.75,222.65L294.00,222.65L294.25,222.65L294.50,222.65L294.75,222.65L295.00,222.65L295.25,222.65L295.50,222.65L295.75,222.65L296.00,222.65L296.25,222.65L296.50,222.65L296.75,222.65L297.00,222.65L297.25,222.65L297.50,222.65L297.75,222.65L298.00,223.50L298.25,223.50L298.50,223.50L298.75,223.50L299.00,223.50L299.25,223.50L299.50,223.50L299.75,223.50L300.00,223.50L300.25,223.50L300.50,223.50L300.75,223.50L301.00,223.50L301.25,223.50L301.50,223.50L301.75,223.50L302.00,223.50L302.25,223.50L302.50,223.50L302.75,223.50L303.00,223.50L303.25,223.50L303.50,223.50L303.75,223.50L304.00,223.50L304.25,223.50L304.50,223.50L304.75,223.50L305.00,223.50L305.25,223.50L305.50,223.50L305.75,223.50L306.00,223.50L306.25,223.50L306.50,223.50L306.75,223.50L307.00,223.50L307.25,223.50L307.50,223.50L307.75,223.50L308.00,223.50L308.25,223.50L308.50,223.50L308.75,223.50L309.00,223.50L309.25,223.50L309.50,223.50L309.75,223.50L310.00,223.50L310.25,223.50L310.50,223.50L310.75,223.50L311.00,223.50L311.25,223.50L311.50,223.50L311.75,223.50L312.00,223.50L312.25,223.50L312.50,223.50L312.75,223.50L313.00,223.50L313.25,223.50L313.50,223.50L313.75,223.50L314.00,223.50L314.25,223.50L314.50,223.50L314.75,223.50L315.00,223.50L315.25,223.50L315.50,223.50L315.75,223.50L316.00,223.50L316.25,223.50L316.50,223.50L316.75,223.50L317.00,223.50L317.25,223.50L317.50,223.50L317.75,223.50L318.00,223.50L318.25,223.50L318.50,223.50L318.75,223.50L319.00,223.50L319.25,223.50L319.50,223.50L319.75,223.50L320.00,223.50L320.25,223.50L320.50,223.50L320.75,223.50L321.00,223.50L321.25,223.50L321.50,223.50L321.75,223.50L322.00,223.50L322.25,223.50L322.50,223.50L322.75,223.50L323.00,223.50L323.25,223.50L323.50,223.50L323.75,223.50L324.00,223.50L324.25,223.50L324.50,223.50L324.75,223.50L325.00,223.50L325.25,223.50L325.50,223.50L325.75,223.50L326.00,223.50L326.25,223.50L326.50,223.50L326.75,223.50L327.00,223.50L327.25,223.50L327.50,223.50L327.75,223.50L328.00,223.50L328.25,223.50L328.50,223.50L328.75,223.50L329.00,223.50L329.25,223.50L329.50,223.50L329.75,223.50L330.00,223.50L330.25,223.50L330.50,223.50L330.75,223.50L331.00,223.50L331.25,223.50L331.50,223.50L331.75,223.50L332.00,223.50L332.25,223.50L332.50,223.50L332.75,223.50L333.00,223.50L333.25,223.50L333.50,223.50L333.75,223.50L334.00,223.50L334.25,223.50L334.50,223.50L334.75,223.50L335.00,223.50L335.25,223.50L335.50,223.50L335.75,223.50L336.00,223.50L336.25,223.50L336.50,223.50L336.75,223.50L337.00,223.50L337.25,223.50L337.50,223.50L337.75,223.50L338.00,223.50L338.25,223.50L338.50,223.50L338.75,223.50L339.00,223.50L339.25,223.50L339.50,223.50L339.75,223.50L340.00,223.50L340.25,223.50L340.50,223.50L340.75,223.50L341.00,223.50L341.25,223.50L341.50,223.50L341.75,223.50L342.00,223.50L342.25,223.50L342.50,223.50L342.75,223.50L343.00,223.50L343.25,223.50L343.50,223.50L343.75,223.50L344.00,223.50L344.25,223.50L344.50,223.50L344.75,223.50L345.00,223.50L345.25,223.50L345.50,223.50L345.75,223.50L346.00,223.50L346.25,223.50L346.50,223.50L346.75,223.50L347.00,223.50L347.25,223.50L347.50,223.50L347.75,223.50L348.00,223.50L348.25,223.50L348.50,223.50L348.75,223.50L349.00,223.50L349.25,223.50L349.50,223.50L349.75,223.50L350.00,223.50L350.25,223.50L350.50,223.50L350.75,223.50L351.00,223.50L351.25,223.50L351.50,223.50L351.75,223.50L352.00,223.50L352.25,223.50L352.50,223.50L352.75,223.50L353.00,223.50L353.25,223.50L353.50,223.50L353.75,223.50L354.00,223.50L354.25,223.50L354.50,223.50L354.75,223.50L355.00,223.50L355.25,223.50L355.50,223.50L355.75,223.50L356.00,223.50L356.25,223.50L356.50,223.50L356.75,223.50L357.00,223.50L357.25,223.50L357.50,223.50L357.75,223.50L358.00,223.50L358.25,223.50L358.50,223.50L358.75,223.50L359.00,223.50L359.25,223.50L359.50,223.50L359.75,223.50L360.00,223.50L360.25,223.50L360.50,223.50L360.75,223.50L361.00,223.50L361.25,223.50L361.50,223.50L361.75,223.50L362.00,223.50L362.25,223.50L362.50,223.50L362.75,223.50L363.00,223.50L363.25,223.50L363.50,223.50L363.75,223.50L364.00,223.50L364.25,223.50L364.50,223.50L364.75,223.50L365.00,223.50L365.25,223.50L365.50,223.50L365.75,223.50L366.00,223.50L366.25,223.50L366.50,223.50L366.75,223.50L367.00,223.50L367.25,223.50L367.50,223.50L367.75,223.50L368.00,223.50L368.25,223.50L368.50,223.50L368.75,223.50L369.00,223.50L369.25,223.50L369.50,223.50L369.75,223.50L370.00,223.50L370.25,223.50L370.50,223.50L370.75,223.50L371.00,223.50L371.25,223.50L371.50,223.50L371.75,223.50L372.00,223.50L372.25,223.50L372.50,223.50L372.75,223.50L373.00,223.50L373.25,223.50"/>
<line x1="59.50" y1="223.5" x2="251.25" y2="223.5" stroke="#b47aae"/>
<line x1="59.50" y1="224.5" x2="251.25" y2="224.5" stroke="#efdbed"/>
<line x1="298.00" y1="223.5" x2="373.25" y2="223.5" stroke="#b47aae"/>
<line x1="298.00" y1="224.5" x2="373.25" y2="224.5" stroke="#efdbed"/>
</g>
<line x1="63.5" y1="224.0" x2="63.5" y2="226.0" stroke="#7a7a7a" stroke-width="1"/>
<line x1="72.5" y1="224.0" x2="72.5" y2="226.0" stroke="#7a7a7a" stroke-width="1"/>
<line x1="81.5" y1="224.0" x2="81.5" y2="226.0" stroke="#7a7a7a" stroke-width="1"/>
<line x1="90.5" y1="224.0" x2="90.5" y2="226.0" stroke="#7a7a7a" stroke-width="1"/>
<line x1="99.5" y1="224.0" x2="99.5" y2="228.0" stroke="#7a7a7a" stroke-width="1"/>
<line x1="108.5" y1="224.0" x2="108.5" y2="226.0" stroke="#7a7a7a" stroke-width="1"/>
<line x1="117.5" y1="224.0" x2="117.5" y2="226.0" stroke="#7a7a7a" stroke-width="1"/>
<line x1="126.5" y1="224.0" x2="126.5" y2="226.0" stroke="#7a7a7a" stroke-width="1"/>
<line x1="135.5" y1="224.0" x2="135.5" y2="226.0" stroke="#7a7a7a" stroke-width="1"/>
<line x1="144.5" y1="224.0" x2="144.5" y2="228.0" stroke="#7a7a7a" stroke-width="1"/>
<line x1="153.5" y1="224.0" x2="153.5" y2="226.0" stroke="#7a7a7a" stroke-width="1"/>
<line x1="162.5" y1="224.0" x2="162.5" y2="226.0" stroke="#7a7a7a" stroke-width="1"/>
<line x1="171.5" y1="224.0" x2="171.5" y2="226.0" stroke="#7a7a7a" stroke-width="1"/>
<line x1="180.5" y1="224.0" x2="180.5" y2="226.0" stroke="#7a7a7a" stroke-width="1"/>
<line x1="189.5" y1="224.0" x2="189.5" y2="228.0" stroke="#7a7a7a" stroke-width="1"/>
<line x1="198.5" y1="224.0" x2="198.5" y2="226.0" stroke="#7a7a7a" stroke-width="1"/>
<line x1="207.5" y1="224.0" x2="207.5" y2="226.0" stroke="#7a7a7a" stroke-width="1"/>
<line x1="216.5" y1="224.0" x2="216.5" y2="226.0" stroke="#7a7a7a" stroke-width="1"/>
<line x1="225.5" y1="224.0" x2="225.5" y2="226.0" stroke="#7a7a7a" stroke-width="1"/>
<line x1="234.5" y1="224.0" x2="234.5" y2="228.0" stroke="#7a7a7a" stroke-width="1"/>
<line x1="243.5" y1="224.0" x2="243.5" y2="226.0" stroke="#7a7a7a" stroke-width="1"/>
<line x1="252.5" y1="224.0" x2="252.5" y2="226.0" stroke="#7a7a7a" stroke-width="1"/>
<line x1="261.5" y1="224.0" x2="261.5" y2="226.0" stroke="#7a7a7a" stroke-width="1"/>
<line x1="270.5" y1="224.0" x2="270.5" y2="226.0" stroke="#7a7a7a" stroke-width="1"/>
<line x1="278.5" y1="224.0" x2="278.5" y2="228.0" stroke="#7a7a7a" stroke-width="1"/>
<line x1="287.5" y1="224.0" x2="287.5" y2="226.0" stroke="#7a7a7a" stroke-width="1"/>
<line x1="296.5" y1="224.0" x2="296.5" y2="226.0" stroke="#7a7a7a" stroke-width="1"/>
<line x1="305.5" y1="224.0" x2="305.5" y2="226.0" stroke="#7a7a7a" stroke-width="1"/>
<line x1="314.5" y1="224.0" x2="314.5" y2="226.0" stroke="#7a7a7a" stroke-width="1"/>
<line x1="323.5" y1="224.0" x2="323.5" y2="228.0" stroke="#7a7a7a" stroke-width="1"/>
<line x1="332.5" y1="224.0" x2="332.5" y2="226.0" stroke="#7a7a7a" stroke-width="1"/>
<line x1="341.5" y1="224.0" x2="341.5" y2="226.0" stroke="#7a7a7a" stroke-width="1"/>
<line x1="350.5" y1="224.0" x2="350.5" y2="226.0" stroke="#7a7a7a" stroke-width="1"/>
<line x1="359.5" y1="224.0" x2="359.5" y2="226.0" stroke="#7a7a7a" stroke-width="1"/>
<line x1="368.5" y1="224.0" x2="368.5" y2="228.0" stroke="#7a7a7a" stroke-width="1"/>
<text x="5.5" y="295.9" font-size="12" fill="#151515" stroke="#151515" stroke-width="0.06">Abundance</text>
<line x1="59.5" y1="309.4" x2="59.5" y2="493.5" stroke="#9a9a9a" stroke-width="1"/>
<line x1="58.0" y1="493.5" x2="60.0" y2="493.5" stroke="#555" stroke-width="1"/>
<line x1="59.0" y1="488.5" x2="60.0" y2="488.5" stroke="#555" stroke-width="1"/>
<line x1="59.0" y1="484.5" x2="60.0" y2="484.5" stroke="#555" stroke-width="1"/>
<line x1="59.0" y1="479.5" x2="60.0" y2="479.5" stroke="#555" stroke-width="1"/>
<line x1="59.0" y1="474.5" x2="60.0" y2="474.5" stroke="#555" stroke-width="1"/>
<line x1="58.0" y1="469.5" x2="60.0" y2="469.5" stroke="#555" stroke-width="1"/>
<line x1="59.0" y1="465.5" x2="60.0" y2="465.5" stroke="#555" stroke-width="1"/>
<line x1="59.0" y1="460.5" x2="60.0" y2="460.5" stroke="#555" stroke-width="1"/>
<line x1="59.0" y1="455.5" x2="60.0" y2="455.5" stroke="#555" stroke-width="1"/>
<line x1="59.0" y1="451.5" x2="60.0" y2="451.5" stroke="#555" stroke-width="1"/>
<line x1="58.0" y1="446.5" x2="60.0" y2="446.5" stroke="#555" stroke-width="1"/>
<line x1="59.0" y1="441.5" x2="60.0" y2="441.5" stroke="#555" stroke-width="1"/>
<line x1="59.0" y1="437.5" x2="60.0" y2="437.5" stroke="#555" stroke-width="1"/>
<line x1="59.0" y1="432.5" x2="60.0" y2="432.5" stroke="#555" stroke-width="1"/>
<line x1="59.0" y1="427.5" x2="60.0" y2="427.5" stroke="#555" stroke-width="1"/>
<line x1="58.0" y1="422.5" x2="60.0" y2="422.5" stroke="#555" stroke-width="1"/>
<line x1="59.0" y1="418.5" x2="60.0" y2="418.5" stroke="#555" stroke-width="1"/>
<line x1="59.0" y1="413.5" x2="60.0" y2="413.5" stroke="#555" stroke-width="1"/>
<line x1="59.0" y1="408.5" x2="60.0" y2="408.5" stroke="#555" stroke-width="1"/>
<line x1="59.0" y1="404.5" x2="60.0" y2="404.5" stroke="#555" stroke-width="1"/>
<line x1="58.0" y1="399.5" x2="60.0" y2="399.5" stroke="#555" stroke-width="1"/>
<line x1="59.0" y1="394.5" x2="60.0" y2="394.5" stroke="#555" stroke-width="1"/>
<line x1="59.0" y1="390.5" x2="60.0" y2="390.5" stroke="#555" stroke-width="1"/>
<line x1="59.0" y1="385.5" x2="60.0" y2="385.5" stroke="#555" stroke-width="1"/>
<line x1="59.0" y1="380.5" x2="60.0" y2="380.5" stroke="#555" stroke-width="1"/>
<line x1="58.0" y1="375.5" x2="60.0" y2="375.5" stroke="#555" stroke-width="1"/>
<line x1="59.0" y1="371.5" x2="60.0" y2="371.5" stroke="#555" stroke-width="1"/>
<line x1="59.0" y1="366.5" x2="60.0" y2="366.5" stroke="#555" stroke-width="1"/>
<line x1="59.0" y1="361.5" x2="60.0" y2="361.5" stroke="#555" stroke-width="1"/>
<line x1="59.0" y1="357.5" x2="60.0" y2="357.5" stroke="#555" stroke-width="1"/>
<line x1="58.0" y1="352.5" x2="60.0" y2="352.5" stroke="#555" stroke-width="1"/>
<line x1="59.0" y1="347.5" x2="60.0" y2="347.5" stroke="#555" stroke-width="1"/>
<line x1="59.0" y1="342.5" x2="60.0" y2="342.5" stroke="#555" stroke-width="1"/>
<line x1="59.0" y1="338.5" x2="60.0" y2="338.5" stroke="#555" stroke-width="1"/>
<line x1="59.0" y1="333.5" x2="60.0" y2="333.5" stroke="#555" stroke-width="1"/>
<line x1="58.0" y1="328.5" x2="60.0" y2="328.5" stroke="#555" stroke-width="1"/>
<line x1="59.0" y1="324.5" x2="60.0" y2="324.5" stroke="#555" stroke-width="1"/>
<line x1="59.0" y1="319.5" x2="60.0" y2="319.5" stroke="#555" stroke-width="1"/>
<line x1="59.0" y1="314.5" x2="60.0" y2="314.5" stroke="#555" stroke-width="1"/>
<line x1="59.5" y1="493.5" x2="375.0" y2="493.5" stroke="#9a9a9a" stroke-width="1"/>
<text x="58.0" y="496.96" font-size="10.5" text-anchor="end" fill="#151515" stroke="#151515" stroke-width="0.16">0</text>
<text x="56" y="473.44" font-size="10.5" text-anchor="end" fill="#151515" stroke="#151515" stroke-width="0.16">500</text>
<text x="56" y="449.92" font-size="10.5" text-anchor="end" fill="#151515" stroke="#151515" stroke-width="0.16">1000</text>
<text x="56" y="426.40" font-size="10.5" text-anchor="end" fill="#151515" stroke="#151515" stroke-width="0.16">1500</text>
<text x="56" y="402.88" font-size="10.5" text-anchor="end" fill="#151515" stroke="#151515" stroke-width="0.16">2000</text>
<text x="56" y="379.36" font-size="10.5" text-anchor="end" fill="#151515" stroke="#151515" stroke-width="0.16">2500</text>
<text x="56" y="355.84" font-size="10.5" text-anchor="end" fill="#151515" stroke="#151515" stroke-width="0.16">3000</text>
<text x="56" y="332.32" font-size="10.5" text-anchor="end" fill="#151515" stroke="#151515" stroke-width="0.16">3500</text>
<text x="101.65" y="509.6" font-size="10.5" text-anchor="middle" fill="#151515" stroke="#151515" stroke-width="0.16">7.00</text>
<text x="144.50" y="509.6" font-size="10.5" text-anchor="middle" fill="#151515" stroke="#151515" stroke-width="0.16">7.50</text>
<text x="190.90" y="509.6" font-size="10.5" text-anchor="middle" fill="#151515" stroke="#151515" stroke-width="0.16">8.00</text>
<text x="233.00" y="509.6" font-size="10.5" text-anchor="middle" fill="#151515" stroke="#151515" stroke-width="0.16">8.50</text>
<text x="279.30" y="509.6" font-size="10.5" text-anchor="middle" fill="#151515" stroke="#151515" stroke-width="0.16">9.00</text>
<text x="325.90" y="509.6" font-size="10.5" text-anchor="middle" fill="#151515" stroke="#151515" stroke-width="0.16">9.50</text>
<text x="5.8" y="519.8" font-size="12.2" fill="#151515" stroke="#151515" stroke-width="0.06">Time--&gt;</text>
<text x="4.8" y="543.4" font-size="12.4" fill="#151515" stroke="#151515" stroke-width="0.06">(B)</text>
<text x="89.9" y="308.10" font-size="7.7" fill="#1a1a1a" stroke="#1a1a1a" stroke-width="0.14">Ion 274.00 (273.70 to 274.70): MOSHER F1000C 1 1204.D</text>
<text x="89.9" y="317.00" font-size="7.7" fill="#138a3a" stroke="#138a3a" stroke-width="0.14">Ion 260.00 (259.70 to 260.70): MOSHER F1000C 1 1204.D</text>
<text x="89.9" y="325.90" font-size="7.7" fill="#1a98a0" stroke="#1a98a0" stroke-width="0.14">Ion 288.00 (287.70 to 288.70): MOSHER F1000C 1 1204.D</text>
<text x="89.9" y="334.80" font-size="7.7" fill="#9a2690" stroke="#9a2690" stroke-width="0.14">Ion 162.00 (161.70 to 162.70): MOSHER F1000C 1 1204.D</text>
<g fill="none" stroke-width="1" stroke-linejoin="round">
<path stroke="#202020" d="M59.50,493.50L60.00,493.50L60.50,493.50L61.00,493.50L61.50,493.50L62.00,493.50L62.50,493.50L63.00,493.50L63.50,493.50L64.00,493.50L64.50,493.50L65.00,493.50L65.50,493.50L66.00,493.50L66.50,493.50L67.00,493.50L67.50,493.50L68.00,493.50L68.50,493.50L69.00,493.50L69.50,493.50L70.00,493.50L70.50,493.50L71.00,493.50L71.50,493.50L72.00,493.50L72.50,493.50L73.00,493.50L73.50,493.50L74.00,493.50L74.50,493.50L75.00,493.50L75.50,493.50L76.00,493.50L76.50,493.50L77.00,493.50L77.50,493.50L78.00,493.50L78.50,493.50L79.00,493.50L79.50,493.50L80.00,493.50L80.50,493.50L81.00,493.50L81.50,493.50L82.00,493.50L82.50,493.50L83.00,493.50L83.50,493.50L84.00,493.50L84.50,493.50L85.00,493.50L85.50,493.50L86.00,493.50L86.50,493.50L87.00,493.50L87.50,493.50L88.00,493.50L88.50,493.50L89.00,493.50L89.50,493.50L90.00,493.50L90.50,493.50L91.00,493.50L91.50,493.50L92.00,493.50L92.50,493.50L93.00,493.50L93.50,493.50L94.00,493.50L94.50,493.50L95.00,493.50L95.50,493.50L96.00,493.50L96.50,493.50L97.00,493.50L97.50,493.50L98.00,493.50L98.50,493.50L99.00,493.50L99.50,493.50L100.00,493.50L100.50,493.50L101.00,493.50L101.50,493.50L102.00,493.50L102.50,493.50L103.00,493.50L103.50,493.50L104.00,493.50L104.50,493.50L105.00,493.50L105.50,493.50L106.00,493.50L106.50,493.50L107.00,493.50L107.50,493.50L108.00,493.50L108.50,493.50L109.00,493.50L109.50,493.50L110.00,493.50L110.50,493.50L111.00,493.50L111.50,493.50L112.00,493.50L112.50,493.50L113.00,493.50L113.50,493.50L114.00,493.50L114.50,493.50L115.00,493.50L115.50,493.50L116.00,493.50L116.50,493.50L117.00,493.50L117.50,493.50L118.00,493.50L118.50,493.50L119.00,493.50L119.50,493.50L120.00,493.50L120.50,493.50L121.00,493.50L121.50,493.50L122.00,493.50L122.50,493.50L123.00,493.50L123.50,493.50L124.00,493.50L124.50,493.50L125.00,493.50L125.50,493.50L126.00,493.50L126.50,493.50L127.00,493.50L127.50,493.50L128.00,493.50L128.50,493.50L129.00,493.50L129.50,493.50L130.00,493.50L130.50,493.50L131.00,493.50L131.50,493.50L132.00,493.50L132.50,493.50L132.89,493.50L132.90,490.18L133.00,490.19L133.50,489.67L134.00,489.76L134.50,489.78L135.00,489.77L135.50,489.68L136.00,489.77L136.50,489.51L137.00,489.50L137.50,490.53L138.00,490.23L138.50,489.21L139.00,489.96L139.50,489.89L140.00,489.59L140.50,489.76L141.00,489.46L141.50,490.07L142.00,490.33L142.50,490.15L143.00,490.23L143.50,490.36L144.00,489.94L144.50,489.84L145.00,489.87L145.50,490.01L146.00,489.87L146.50,489.92L147.00,490.12L147.50,489.85L148.00,489.78L148.50,489.82L149.00,489.67L149.50,490.02L150.00,488.62L150.50,478.40L151.00,439.15L151.50,376.09L151.87,353.19L152.00,355.35L152.50,398.89L153.00,451.72L153.50,477.09L154.00,483.50L154.50,485.18L155.00,484.34L155.50,473.01L156.00,430.84L156.50,369.57L156.82,353.15L157.00,357.82L157.50,405.23L158.00,455.17L158.50,477.67L159.00,483.09L159.50,484.66L160.00,485.52L160.50,485.84L161.00,486.54L161.50,486.61L162.00,487.19L162.50,487.44L163.00,487.71L163.50,487.83L164.00,488.54L164.50,488.25L165.00,488.44L165.50,488.88L166.00,488.65L166.50,488.64L167.00,488.40L167.50,488.46L168.00,488.60L168.50,489.25L169.00,488.61L169.50,488.38L170.00,488.49L170.50,488.63L171.00,488.49L171.50,489.02L172.00,488.82L172.50,488.92L173.00,489.26L173.50,489.03L174.00,488.94L174.50,488.51L175.00,488.54L175.50,489.28L176.00,489.72L176.50,489.38L177.00,489.27L177.50,489.43L178.00,489.65L178.50,489.40L179.00,489.56L179.50,489.50L180.00,489.04L180.50,489.01L181.00,489.28L181.50,489.51L182.00,489.35L182.50,488.73L183.00,489.10L183.50,488.63L184.00,489.13L184.50,489.20L185.00,488.97L185.50,489.29L186.00,489.20L186.50,489.57L187.00,489.16L187.50,488.84L188.00,489.21L188.50,489.14L189.00,489.28L189.50,489.85L190.00,488.71L190.50,488.80L191.00,488.79L191.50,488.91L192.00,489.03L192.50,488.46L193.00,489.40L193.50,489.39L194.00,489.43L194.50,489.38L195.00,489.11L195.50,489.39L196.00,489.69L196.50,489.77L197.00,489.36L197.50,489.04L198.00,488.94L198.50,488.67L199.00,489.15L199.50,488.94L200.00,488.94L200.50,489.18L201.00,489.46L201.50,489.13L202.00,489.42L202.50,489.45L203.00,489.65L203.50,488.98L204.00,489.18L204.50,489.41L205.00,489.44L205.50,489.45L206.00,489.37L206.50,489.84L207.00,489.91L207.50,489.46L208.00,489.10L208.50,489.54L209.00,489.42L209.50,489.56L210.00,490.11L210.50,489.80L211.00,489.89L211.50,489.37L212.00,489.45L212.50,489.44L213.00,489.84L213.50,489.57L214.00,490.04L214.50,489.64L215.00,489.14L215.50,489.65L216.00,489.29L216.50,488.98L217.00,489.30L217.50,489.07L218.00,489.26L218.29,489.41L218.30,493.50L218.50,493.50L219.00,493.50L219.50,493.50L220.00,493.50L220.50,493.50L221.00,493.50L221.50,493.50L222.00,493.50L222.50,493.50L223.00,493.50L223.50,493.50L224.00,493.50L224.50,493.50L225.00,493.50L225.50,493.50L226.00,493.50L226.50,493.50L227.00,493.50L227.50,493.50L228.00,493.50L228.50,493.50L229.00,493.50L229.50,493.50L230.00,493.50L230.50,493.50L231.00,493.50L231.50,493.50L232.00,493.50L232.50,493.50L233.00,493.50L233.50,493.50L234.00,493.50L234.50,493.50L235.00,493.50L235.50,493.50L236.00,493.50L236.50,493.50L237.00,493.50L237.50,493.50L238.00,493.50L238.50,493.50L239.00,493.50L239.50,493.50L240.00,493.50L240.50,493.50L241.00,493.50L241.50,493.50L242.00,493.50L242.50,493.50L243.00,493.50L243.50,493.50L244.00,493.50L244.50,493.50L245.00,493.50L245.50,493.50L246.00,493.50L246.50,493.50L247.00,493.50L247.50,493.50L248.00,493.50L248.50,493.50L249.00,493.50L249.50,493.50L250.00,493.50L250.50,493.50L251.00,493.50L251.50,493.50L252.00,493.50L252.50,493.50L253.00,493.50L253.50,493.50L254.00,493.50L254.50,493.50L255.00,493.50L255.50,493.50L256.00,493.50L256.50,493.50L257.00,493.50L257.50,493.50L258.00,493.50L258.50,493.50L259.00,493.50L259.50,493.50L260.00,493.50L260.50,493.50L261.00,493.50L261.50,493.50L262.00,493.50L262.50,493.50L263.00,493.50L263.50,493.50L264.00,493.50L264.50,493.50L265.00,493.50L265.50,493.50L266.00,493.50L266.50,493.50L267.00,493.50L267.50,493.50L268.00,493.50L268.50,493.50L269.00,493.50L269.50,493.50L270.00,493.50L270.50,493.50L271.00,493.50L271.50,493.50L272.00,493.50L272.50,493.50L273.00,493.50L273.50,493.50L274.00,493.50L274.50,493.50L275.00,493.50L275.50,493.50L276.00,493.50L276.50,493.50L277.00,493.50L277.50,493.50L278.00,493.50L278.50,493.50L279.00,493.50L279.50,493.50L280.00,493.50L280.50,493.50L281.00,493.50L281.50,493.50L282.00,493.50L282.50,493.50L283.00,493.50L283.50,493.50L284.00,493.50L284.50,493.50L285.00,493.50L285.50,493.50L286.00,493.50L286.50,493.50L287.00,493.50L287.50,493.50L288.00,493.50L288.50,493.50L289.00,493.50L289.50,493.50L290.00,493.50L290.50,493.50L291.00,493.50L291.50,493.50L292.00,493.50L292.50,493.50L293.00,493.50L293.50,493.50L294.00,493.50L294.50,493.50L295.00,493.50L295.50,493.50L296.00,493.50L296.50,493.50L297.00,493.50L297.50,493.50L298.00,493.50L298.50,493.50L299.00,493.50L299.50,493.50L300.00,493.50L300.50,493.50L301.00,493.50L301.50,493.50L302.00,493.50L302.50,493.50L303.00,493.50L303.50,493.50L303.59,493.50L303.60,488.02L304.00,488.33L304.50,488.23L305.00,488.36L305.50,488.81L306.00,488.55L306.50,488.61L307.00,487.97L307.50,488.31L308.00,488.43L308.50,488.02L309.00,488.12L309.50,488.55L310.00,488.29L310.50,488.46L311.00,487.82L311.50,488.34L312.00,488.48L312.50,489.12L313.00,488.81L313.50,487.93L314.00,488.12L314.50,488.44L315.00,488.23L315.50,488.30L316.00,488.26L316.50,487.50L317.00,487.30L317.50,487.33L318.00,487.33L318.50,488.07L319.00,488.69L319.50,488.04L320.00,487.21L320.50,484.98L321.00,479.86L321.50,471.80L322.00,464.87L322.32,463.37L322.50,463.77L323.00,468.39L323.50,475.83L324.00,482.25L324.50,485.53L325.00,487.42L325.50,487.42L326.00,487.68L326.50,487.82L327.00,487.07L327.50,485.61L328.00,481.47L328.50,475.09L329.00,469.26L329.34,467.74L329.50,467.94L330.00,471.19L330.50,477.40L331.00,483.20L331.50,486.53L332.00,488.27L332.50,488.15L333.00,487.96L333.50,488.00L334.00,488.01L334.50,487.96L335.00,487.97L335.50,487.91L336.00,488.00L336.50,488.40L337.00,488.01L337.50,487.73L338.00,488.46L338.50,488.39L339.00,488.61L339.50,488.24L340.00,488.30L340.50,487.83L341.00,487.71L341.50,488.11L342.00,488.30L342.50,488.42L343.00,488.13L343.50,488.44L344.00,488.18L344.50,488.60L345.00,488.07L345.50,488.00L346.00,488.45L346.50,488.54L347.00,488.31L347.50,488.17L348.00,489.02L348.50,488.51L349.00,487.90L349.50,488.19L350.00,488.59L350.50,488.02L351.00,488.05L351.50,488.08L352.00,487.96L352.50,488.45L353.00,488.51L353.50,488.67L354.00,488.74L354.50,488.54L355.00,488.66L355.50,487.94L356.00,487.94L356.50,487.84L357.00,488.52L357.50,488.41L358.00,488.34L358.50,488.22L359.00,488.08L359.50,488.38L360.00,488.55L360.50,488.08L361.00,487.49L361.50,487.28L362.00,487.87L362.50,488.28L363.00,488.18L363.50,488.06L364.00,487.62L364.50,488.01L365.00,488.33L365.50,487.96L366.00,488.30L366.50,488.50L367.00,488.18L367.50,488.25L368.00,488.53L368.50,488.42L369.00,488.42L369.50,488.37L370.00,488.49L370.50,488.16L371.00,488.29L371.50,488.41L372.00,487.99L372.50,488.37L373.00,488.06L373.50,487.97L374.00,488.18L374.50,488.13L375.00,488.60"/>
<line x1="59.50" y1="493.5" x2="132.89" y2="493.5" stroke="#202020"/>
<line x1="218.30" y1="493.5" x2="303.59" y2="493.5" stroke="#202020"/>
<path stroke="#178f42" d="M59.50,488.49L60.00,487.98L60.50,488.68L61.00,488.17L61.50,488.48L62.00,488.62L62.50,487.76L63.00,488.12L63.50,488.36L64.00,488.14L64.50,487.88L65.00,488.25L65.50,488.15L66.00,488.77L66.50,488.80L67.00,488.84L67.50,489.23L68.00,489.49L68.50,489.65L69.00,489.14L69.50,488.88L70.00,488.82L70.50,488.63L71.00,489.14L71.50,488.84L72.00,488.57L72.50,488.23L73.00,488.75L73.50,488.80L74.00,489.51L74.50,489.19L75.00,489.76L75.50,489.69L76.00,488.58L76.50,489.49L77.00,488.62L77.50,488.43L78.00,488.62L78.50,488.37L79.00,488.23L79.50,487.95L80.00,488.37L80.50,488.71L81.00,488.87L81.50,489.10L82.00,488.81L82.50,488.99L83.00,488.28L83.50,489.21L84.00,489.30L84.50,489.28L85.00,489.76L85.50,488.27L86.00,489.44L86.50,489.06L87.00,488.99L87.50,488.03L88.00,489.15L88.50,488.35L89.00,488.76L89.50,488.70L90.00,488.89L90.50,488.42L91.00,488.96L91.50,488.76L92.00,488.48L92.50,487.72L93.00,489.19L93.50,488.18L94.00,487.97L94.50,488.48L95.00,488.38L95.50,488.66L96.00,487.89L96.50,488.15L97.00,488.45L97.50,488.59L98.00,488.64L98.50,488.66L99.00,488.96L99.50,487.85L100.00,489.04L100.50,490.29L101.00,489.37L101.50,488.93L102.00,488.20L102.50,486.33L103.00,478.98L103.50,461.00L104.00,435.36L104.50,419.99L104.59,419.62L105.00,426.00L105.50,444.39L106.00,465.20L106.50,479.64L107.00,484.88L107.50,487.16L108.00,488.34L108.50,488.98L109.00,488.61L109.50,488.90L110.00,488.99L110.50,488.20L111.00,483.49L111.50,469.92L112.00,447.89L112.50,428.20L112.77,424.37L113.00,425.98L113.50,440.64L114.00,460.39L114.50,475.64L115.00,484.23L115.50,487.46L116.00,488.33L116.50,488.98L117.00,488.46L117.50,487.91L118.00,488.18L118.50,488.47L119.00,488.61L119.50,488.90L120.00,489.04L120.50,488.93L121.00,489.07L121.50,488.96L122.00,489.39L122.50,488.77L123.00,488.62L123.50,489.06L124.00,489.75L124.50,489.08L125.00,488.31L125.50,488.74L126.00,488.83L126.50,488.91L127.00,488.42L127.50,488.87L128.00,488.26L128.50,488.54L129.00,488.14L129.50,488.34L130.00,488.54L130.50,489.17L131.00,489.11L131.50,488.90L132.00,488.42L132.50,488.37L132.89,488.67L132.90,493.50L133.00,493.50L133.50,493.50L134.00,493.50L134.50,493.50L135.00,493.50L135.50,493.50L136.00,493.50L136.50,493.50L137.00,493.50L137.50,493.50L138.00,493.50L138.50,493.50L139.00,493.50L139.50,493.50L140.00,493.50L140.50,493.50L141.00,493.50L141.50,493.50L142.00,493.50L142.50,493.50L143.00,493.50L143.50,493.50L144.00,493.50L144.50,493.50L145.00,493.50L145.50,493.50L146.00,493.50L146.50,493.50L147.00,493.50L147.50,493.50L148.00,493.50L148.50,493.50L149.00,493.50L149.50,493.50L150.00,493.50L150.50,493.50L151.00,493.50L151.50,493.50L152.00,493.50L152.50,493.50L153.00,493.50L153.50,493.50L154.00,493.50L154.50,493.50L155.00,493.50L155.50,493.50L156.00,493.50L156.50,493.50L157.00,493.50L157.50,493.50L158.00,493.50L158.50,493.50L159.00,493.50L159.50,493.50L160.00,493.50L160.50,493.50L161.00,493.50L161.50,493.50L162.00,493.50L162.50,493.50L163.00,493.50L163.50,493.50L164.00,493.50L164.50,493.50L165.00,493.50L165.50,493.50L166.00,493.50L166.50,493.50L167.00,493.50L167.50,493.50L168.00,493.50L168.50,493.50L169.00,493.50L169.50,493.50L170.00,493.50L170.50,493.50L171.00,493.50L171.50,493.50L172.00,493.50L172.50,493.50L173.00,493.50L173.50,493.50L174.00,493.50L174.50,493.50L175.00,493.50L175.50,493.50L176.00,493.50L176.50,493.50L177.00,493.50L177.50,493.50L178.00,493.50L178.50,493.50L179.00,493.50L179.50,493.50L180.00,493.50L180.50,493.50L181.00,493.50L181.50,493.50L182.00,493.50L182.50,493.50L183.00,493.50L183.50,493.50L184.00,493.50L184.50,493.50L185.00,493.50L185.50,493.50L186.00,493.50L186.50,493.50L187.00,493.50L187.50,493.50L188.00,493.50L188.50,493.50L189.00,493.50L189.50,493.50L190.00,493.50L190.50,493.50L191.00,493.50L191.50,493.50L192.00,493.50L192.50,493.50L193.00,493.50L193.50,493.50L194.00,493.50L194.50,493.50L195.00,493.50L195.50,493.50L196.00,493.50L196.50,493.50L197.00,493.50L197.50,493.50L198.00,493.50L198.50,493.50L199.00,493.50L199.50,493.50L200.00,493.50L200.50,493.50L201.00,493.50L201.50,493.50L202.00,493.50L202.50,493.50L203.00,493.50L203.50,493.50L204.00,493.50L204.50,493.50L205.00,493.50L205.50,493.50L206.00,493.50L206.50,493.50L207.00,493.50L207.50,493.50L208.00,493.50L208.50,493.50L209.00,493.50L209.50,493.50L210.00,493.50L210.50,493.50L211.00,493.50L211.50,493.50L212.00,493.50L212.50,493.50L213.00,493.50L213.50,493.50L214.00,493.50L214.50,493.50L215.00,493.50L215.50,493.50L216.00,493.50L216.50,493.50L217.00,493.50L217.50,493.50L218.00,493.50L218.50,493.50L219.00,493.50L219.50,493.50L220.00,493.50L220.50,493.50L221.00,493.50L221.50,493.50L222.00,493.50L222.50,493.50L223.00,493.50L223.50,493.50L224.00,493.50L224.50,493.50L225.00,493.50L225.50,493.50L226.00,493.50L226.50,493.50L227.00,493.50L227.50,493.50L228.00,493.50L228.50,493.50L229.00,493.50L229.50,493.50L230.00,493.50L230.50,493.50L231.00,493.50L231.50,493.50L232.00,493.50L232.50,493.50L233.00,493.50L233.50,493.50L234.00,493.50L234.50,493.50L235.00,493.50L235.50,493.50L236.00,493.50L236.50,493.50L237.00,493.50L237.50,493.50L238.00,493.50L238.50,493.50L239.00,493.50L239.50,493.50L240.00,493.50L240.50,493.50L241.00,493.50L241.50,493.50L242.00,493.50L242.50,493.50L243.00,493.50L243.50,493.50L244.00,493.50L244.50,493.50L245.00,493.50L245.50,493.50L246.00,493.50L246.50,493.50L247.00,493.50L247.50,493.50L248.00,493.50L248.50,493.50L249.00,493.50L249.50,493.50L250.00,493.50L250.50,493.50L251.00,493.50L251.50,493.50L252.00,493.50L252.50,493.50L253.00,493.50L253.50,493.50L254.00,493.50L254.50,493.50L255.00,493.50L255.50,493.50L256.00,493.50L256.50,493.50L257.00,493.50L257.50,493.50L258.00,493.50L258.50,493.50L259.00,493.50L259.50,493.50L260.00,493.50L260.50,493.50L261.00,493.50L261.50,493.50L262.00,493.50L262.50,493.50L263.00,493.50L263.50,493.50L264.00,493.50L264.50,493.50L265.00,493.50L265.50,493.50L266.00,493.50L266.50,493.50L267.00,493.50L267.50,493.50L268.00,493.50L268.50,493.50L269.00,493.50L269.50,493.50L270.00,493.50L270.50,493.50L271.00,493.50L271.50,493.50L272.00,493.50L272.50,493.50L273.00,493.50L273.50,493.50L274.00,493.50L274.50,493.50L275.00,493.50L275.50,493.50L276.00,493.50L276.50,493.50L277.00,493.50L277.50,493.50L278.00,493.50L278.50,493.50L279.00,493.50L279.50,493.50L280.00,493.50L280.50,493.50L281.00,493.50L281.50,493.50L282.00,493.50L282.50,493.50L283.00,493.50L283.50,493.50L284.00,493.50L284.50,493.50L285.00,493.50L285.50,493.50L286.00,493.50L286.50,493.50L287.00,493.50L287.50,493.50L288.00,493.50L288.50,493.50L289.00,493.50L289.50,493.50L290.00,493.50L290.50,493.50L291.00,493.50L291.50,493.50L292.00,493.50L292.50,493.50L293.00,493.50L293.50,493.50L294.00,493.50L294.50,493.50L295.00,493.50L295.50,493.50L296.00,493.50L296.50,493.50L297.00,493.50L297.50,493.50L298.00,493.50L298.50,493.50L299.00,493.50L299.50,493.50L300.00,493.50L300.50,493.50L301.00,493.50L301.50,493.50L302.00,493.50L302.50,493.50L303.00,493.50L303.50,493.50L304.00,493.50L304.50,493.50L305.00,493.50L305.50,493.50L306.00,493.50L306.50,493.50L307.00,493.50L307.50,493.50L308.00,493.50L308.50,493.50L309.00,493.50L309.50,493.50L310.00,493.50L310.50,493.50L311.00,493.50L311.50,493.50L312.00,493.50L312.50,493.50L313.00,493.50L313.50,493.50L314.00,493.50L314.50,493.50L315.00,493.50L315.50,493.50L316.00,493.50L316.50,493.50L317.00,493.50L317.50,493.50L318.00,493.50L318.50,493.50L319.00,493.50L319.50,493.50L320.00,493.50L320.50,493.50L321.00,493.50L321.50,493.50L322.00,493.50L322.50,493.50L323.00,493.50L323.50,493.50L324.00,493.50L324.50,493.50L325.00,493.50L325.50,493.50L326.00,493.50L326.50,493.50L327.00,493.50L327.50,493.50L328.00,493.50L328.50,493.50L329.00,493.50L329.50,493.50L330.00,493.50L330.50,493.50L331.00,493.50L331.50,493.50L332.00,493.50L332.50,493.50L333.00,493.50L333.50,493.50L334.00,493.50L334.50,493.50L335.00,493.50L335.50,493.50L336.00,493.50L336.50,493.50L337.00,493.50L337.50,493.50L338.00,493.50L338.50,493.50L339.00,493.50L339.50,493.50L340.00,493.50L340.50,493.50L341.00,493.50L341.50,493.50L342.00,493.50L342.50,493.50L343.00,493.50L343.50,493.50L344.00,493.50L344.50,493.50L345.00,493.50L345.50,493.50L346.00,493.50L346.50,493.50L347.00,493.50L347.50,493.50L348.00,493.50L348.50,493.50L349.00,493.50L349.50,493.50L350.00,493.50L350.50,493.50L351.00,493.50L351.50,493.50L352.00,493.50L352.50,493.50L353.00,493.50L353.50,493.50L354.00,493.50L354.50,493.50L355.00,493.50L355.50,493.50L356.00,493.50L356.50,493.50L357.00,493.50L357.50,493.50L358.00,493.50L358.50,493.50L359.00,493.50L359.50,493.50L360.00,493.50L360.50,493.50L361.00,493.50L361.50,493.50L362.00,493.50L362.50,493.50L363.00,493.50L363.50,493.50L364.00,493.50L364.50,493.50L365.00,493.50L365.50,493.50L366.00,493.50L366.50,493.50L367.00,493.50L367.50,493.50L368.00,493.50L368.50,493.50L369.00,493.50L369.50,493.50L370.00,493.50L370.50,493.50L371.00,493.50L371.50,493.50L372.00,493.50L372.50,493.50L373.00,493.50L373.50,493.50L374.00,493.50L374.50,493.50L375.00,493.50"/>
<line x1="132.90" y1="493.5" x2="375.00" y2="493.5" stroke="#178f42"/>
<path stroke="#22a6ad" d="M59.50,493.50L60.00,493.50L60.50,493.50L61.00,493.50L61.50,493.50L62.00,493.50L62.50,493.50L63.00,493.50L63.50,493.50L64.00,493.50L64.50,493.50L65.00,493.50L65.50,493.50L66.00,493.50L66.50,493.50L67.00,493.50L67.50,493.50L68.00,493.50L68.50,493.50L69.00,493.50L69.50,493.50L70.00,493.50L70.50,493.50L71.00,493.50L71.50,493.50L72.00,493.50L72.50,493.50L73.00,493.50L73.50,493.50L74.00,493.50L74.50,493.50L75.00,493.50L75.50,493.50L76.00,493.50L76.50,493.50L77.00,493.50L77.50,493.50L78.00,493.50L78.50,493.50L79.00,493.50L79.50,493.50L80.00,493.50L80.50,493.50L81.00,493.50L81.50,493.50L82.00,493.50L82.50,493.50L83.00,493.50L83.50,493.50L84.00,493.50L84.50,493.50L85.00,493.50L85.50,493.50L86.00,493.50L86.50,493.50L87.00,493.50L87.50,493.50L88.00,493.50L88.50,493.50L89.00,493.50L89.50,493.50L90.00,493.50L90.50,493.50L91.00,493.50L91.50,493.50L92.00,493.50L92.50,493.50L93.00,493.50L93.50,493.50L94.00,493.50L94.50,493.50L95.00,493.50L95.50,493.50L96.00,493.50L96.50,493.50L97.00,493.50L97.50,493.50L98.00,493.50L98.50,493.50L99.00,493.50L99.50,493.50L100.00,493.50L100.50,493.50L101.00,493.50L101.50,493.50L102.00,493.50L102.50,493.50L103.00,493.50L103.50,493.50L104.00,493.50L104.50,493.50L105.00,493.50L105.50,493.50L106.00,493.50L106.50,493.50L107.00,493.50L107.50,493.50L108.00,493.50L108.50,493.50L109.00,493.50L109.50,493.50L110.00,493.50L110.50,493.50L111.00,493.50L111.50,493.50L112.00,493.50L112.50,493.50L113.00,493.50L113.50,493.50L114.00,493.50L114.50,493.50L115.00,493.50L115.50,493.50L116.00,493.50L116.50,493.50L117.00,493.50L117.50,493.50L118.00,493.50L118.50,493.50L119.00,493.50L119.50,493.50L120.00,493.50L120.50,493.50L121.00,493.50L121.50,493.50L122.00,493.50L122.50,493.50L123.00,493.50L123.50,493.50L124.00,493.50L124.50,493.50L125.00,493.50L125.50,493.50L126.00,493.50L126.50,493.50L127.00,493.50L127.50,493.50L128.00,493.50L128.50,493.50L129.00,493.50L129.50,493.50L130.00,493.50L130.50,493.50L131.00,493.50L131.50,493.50L132.00,493.50L132.50,493.50L133.00,493.50L133.50,493.50L134.00,493.50L134.50,493.50L135.00,493.50L135.50,493.50L136.00,493.50L136.50,493.50L137.00,493.50L137.50,493.50L138.00,493.50L138.50,493.50L139.00,493.50L139.50,493.50L140.00,493.50L140.50,493.50L141.00,493.50L141.50,493.50L142.00,493.50L142.50,493.50L143.00,493.50L143.50,493.50L144.00,493.50L144.50,493.50L145.00,493.50L145.50,493.50L146.00,493.50L146.50,493.50L147.00,493.50L147.50,493.50L148.00,493.50L148.50,493.50L149.00,493.50L149.50,493.50L150.00,493.50L150.50,493.50L151.00,493.50L151.50,493.50L152.00,493.50L152.50,493.50L153.00,493.50L153.50,493.50L154.00,493.50L154.50,493.50L155.00,493.50L155.50,493.50L156.00,493.50L156.50,493.50L157.00,493.50L157.50,493.50L158.00,493.50L158.50,493.50L159.00,493.50L159.50,493.50L160.00,493.50L160.50,493.50L161.00,493.50L161.50,493.50L162.00,493.50L162.50,493.50L163.00,493.50L163.50,493.50L164.00,493.50L164.50,493.50L165.00,493.50L165.50,493.50L166.00,493.50L166.50,493.50L167.00,493.50L167.50,493.50L168.00,493.50L168.50,493.50L169.00,493.50L169.50,493.50L170.00,493.50L170.50,493.50L171.00,493.50L171.50,493.50L172.00,493.50L172.50,493.50L173.00,493.50L173.50,493.50L174.00,493.50L174.50,493.50L175.00,493.50L175.50,493.50L176.00,493.50L176.50,493.50L177.00,493.50L177.50,493.50L178.00,493.50L178.50,493.50L179.00,493.50L179.50,493.50L180.00,493.50L180.50,493.50L181.00,493.50L181.50,493.50L182.00,493.50L182.50,493.50L183.00,493.50L183.50,493.50L184.00,493.50L184.50,493.50L185.00,493.50L185.50,493.50L186.00,493.50L186.50,493.50L187.00,493.50L187.50,493.50L188.00,493.50L188.50,493.50L189.00,493.50L189.50,493.50L190.00,493.50L190.50,493.50L191.00,493.50L191.50,493.50L192.00,493.50L192.50,493.50L193.00,493.50L193.50,493.50L194.00,493.50L194.50,493.50L195.00,493.50L195.50,493.50L196.00,493.50L196.50,493.50L197.00,493.50L197.50,493.50L198.00,493.50L198.50,493.50L199.00,493.50L199.50,493.50L200.00,493.50L200.50,493.50L201.00,493.50L201.50,493.50L202.00,493.50L202.50,493.50L203.00,493.50L203.50,493.50L204.00,493.50L204.50,493.50L205.00,493.50L205.50,493.50L206.00,493.50L206.50,493.50L207.00,493.50L207.50,493.50L208.00,493.50L208.50,493.50L209.00,493.50L209.50,493.50L210.00,493.50L210.50,493.50L211.00,493.50L211.50,493.50L212.00,493.50L212.50,493.50L213.00,493.50L213.50,493.50L214.00,493.50L214.50,493.50L215.00,493.50L215.50,493.50L216.00,493.50L216.50,493.50L217.00,493.50L217.50,493.50L218.00,493.50L218.50,493.50L219.00,493.50L219.50,493.50L220.00,493.50L220.50,493.50L221.00,493.50L221.50,493.50L222.00,493.50L222.50,493.50L223.00,493.50L223.50,493.50L224.00,493.50L224.50,493.50L225.00,493.50L225.50,493.50L226.00,493.50L226.50,493.50L227.00,493.50L227.50,493.50L228.00,493.50L228.50,493.50L229.00,493.50L229.50,493.50L230.00,493.50L230.50,493.50L231.00,493.50L231.50,493.50L232.00,493.50L232.50,493.50L233.00,493.50L233.50,493.50L234.00,493.50L234.50,493.50L235.00,493.50L235.50,493.50L236.00,493.50L236.50,493.50L237.00,493.50L237.50,493.50L238.00,493.50L238.50,493.50L239.00,493.50L239.50,493.50L240.00,493.50L240.50,493.50L241.00,493.50L241.50,493.50L242.00,493.50L242.50,493.50L243.00,493.50L243.50,493.50L244.00,493.50L244.50,493.50L245.00,493.50L245.50,493.50L246.00,493.50L246.50,493.50L247.00,493.50L247.50,493.50L248.00,493.50L248.50,493.50L249.00,493.50L249.50,493.50L250.00,493.50L250.50,493.50L251.00,493.50L251.50,493.50L252.00,493.50L252.50,493.50L253.00,493.50L253.50,493.50L254.00,493.50L254.50,493.50L255.00,493.50L255.50,493.50L256.00,493.50L256.50,493.50L257.00,493.50L257.50,493.50L258.00,493.50L258.50,493.50L259.00,493.50L259.50,493.50L260.00,493.50L260.50,493.50L261.00,493.50L261.50,493.50L262.00,493.50L262.50,493.50L263.00,493.50L263.50,493.50L264.00,493.50L264.50,493.50L265.00,493.50L265.50,493.50L266.00,493.50L266.50,493.50L267.00,493.50L267.50,493.50L268.00,493.50L268.50,493.50L269.00,493.50L269.50,493.50L270.00,493.50L270.50,493.50L271.00,493.50L271.50,493.50L272.00,493.50L272.50,493.50L273.00,493.50L273.50,493.50L274.00,493.50L274.50,493.50L275.00,493.50L275.50,493.50L276.00,493.50L276.50,493.50L277.00,493.50L277.50,493.50L278.00,493.50L278.50,493.50L279.00,493.50L279.50,493.50L280.00,493.50L280.50,493.50L281.00,493.50L281.50,493.50L282.00,493.50L282.50,493.50L283.00,493.50L283.50,493.50L284.00,493.50L284.50,493.50L285.00,493.50L285.50,493.50L286.00,493.50L286.50,493.50L287.00,493.50L287.50,493.50L288.00,493.50L288.50,493.50L289.00,493.50L289.50,493.50L290.00,493.50L290.50,493.50L291.00,493.50L291.50,493.50L292.00,493.50L292.50,493.50L293.00,493.50L293.50,493.50L294.00,493.50L294.50,493.50L295.00,493.50L295.50,493.50L296.00,493.50L296.50,493.50L297.00,493.50L297.50,493.50L298.00,493.50L298.50,493.50L299.00,493.50L299.50,493.50L300.00,493.50L300.50,493.50L301.00,493.50L301.50,493.50L302.00,493.50L302.50,493.50L303.00,493.50L303.50,493.50L303.59,493.50L303.60,488.54L304.00,488.72L304.50,489.07L305.00,488.22L305.50,488.22L306.00,488.18L306.50,487.68L307.00,487.83L307.50,488.39L308.00,488.58L308.50,488.60L309.00,487.97L309.50,488.93L310.00,489.66L310.50,489.49L311.00,489.22L311.50,489.33L312.00,488.80L312.50,488.68L313.00,488.87L313.50,488.92L314.00,488.24L314.50,487.90L315.00,487.84L315.50,488.62L316.00,488.36L316.50,489.15L317.00,489.77L317.50,488.69L318.00,488.52L318.50,488.50L319.00,488.14L319.50,487.76L320.00,487.85L320.50,487.52L321.00,486.84L321.50,486.16L322.00,486.10L322.05,486.17L322.50,486.95L323.00,486.31L323.50,487.67L324.00,488.50L324.50,488.53L325.00,488.82L325.50,488.73L326.00,487.96L326.50,487.99L327.00,488.72L327.50,488.75L328.00,488.90L328.50,488.47L329.00,489.10L329.50,489.41L330.00,489.82L330.50,489.17L331.00,488.92L331.50,488.69L332.00,488.53L332.50,489.24L333.00,489.24L333.50,489.50L334.00,488.63L334.50,487.88L335.00,486.82L335.50,482.02L336.00,474.95L336.50,468.20L336.89,466.02L337.00,466.11L337.50,470.25L338.00,476.91L338.50,483.10L339.00,486.78L339.50,488.05L340.00,486.01L340.50,482.07L341.00,476.81L341.50,473.16L341.74,471.97L342.00,471.91L342.50,475.92L343.00,481.06L343.50,485.01L344.00,486.85L344.50,488.36L345.00,489.69L345.50,489.44L346.00,489.20L346.50,489.30L347.00,488.57L347.50,488.97L348.00,488.86L348.50,489.24L349.00,488.81L349.50,489.17L350.00,488.75L350.50,488.83L351.00,488.85L351.50,488.81L352.00,489.52L352.50,489.40L353.00,489.09L353.50,489.18L354.00,488.62L354.50,488.49L355.00,489.04L355.50,488.56L356.00,488.88L356.50,488.73L357.00,488.40L357.50,489.15L358.00,489.37L358.50,489.18L359.00,489.16L359.50,489.70L360.00,489.06L360.50,488.95L361.00,488.90L361.50,488.83L362.00,488.64L362.50,489.14L363.00,488.93L363.50,489.13L364.00,489.23L364.50,489.43L365.00,488.72L365.50,489.80L366.00,489.62L366.50,489.01L367.00,489.12L367.50,489.30L368.00,488.73L368.50,489.23L369.00,489.20L369.50,488.93L370.00,489.16L370.50,489.26L371.00,489.08L371.50,488.66L372.00,489.19L372.50,488.88L373.00,488.96L373.50,489.11L374.00,489.55L374.50,488.58L375.00,488.59"/>
<line x1="59.50" y1="493.5" x2="303.59" y2="493.5" stroke="#78c8c8"/>
<line x1="59.50" y1="494.5" x2="303.59" y2="494.5" stroke="#cdeceb"/>
<path stroke="#9c2c92" d="M59.50,493.50L60.10,493.50L60.70,493.50L61.30,493.50L61.90,493.50L62.50,493.50L63.10,493.50L63.70,493.50L64.30,493.50L64.90,493.50L65.50,493.50L66.10,493.50L66.70,493.50L67.30,493.50L67.90,493.50L68.50,493.50L69.10,493.50L69.70,493.50L70.30,493.50L70.90,493.50L71.50,493.50L72.10,493.50L72.70,493.50L73.30,493.50L73.90,493.50L74.50,493.50L75.10,493.50L75.70,493.50L76.30,493.50L76.90,493.50L77.50,493.50L78.10,493.50L78.70,493.50L79.30,493.50L79.90,493.50L80.50,493.50L81.10,493.50L81.70,493.50L82.30,493.50L82.90,493.50L83.50,493.50L84.10,493.50L84.70,493.50L85.30,493.50L85.90,493.50L86.50,493.50L87.10,493.50L87.70,493.50L88.30,493.50L88.90,493.50L89.50,493.50L90.10,493.50L90.70,493.50L91.30,493.50L91.90,493.50L92.50,493.50L93.10,493.50L93.70,493.50L94.30,493.50L94.90,493.50L95.50,493.50L96.10,493.50L96.70,493.50L97.30,493.50L97.90,493.50L98.50,493.50L99.10,493.50L99.70,493.50L100.30,493.50L100.90,493.50L101.50,493.50L102.10,493.50L102.70,493.50L103.30,493.50L103.90,493.50L104.50,493.50L105.10,493.50L105.70,493.50L106.30,493.50L106.90,493.50L107.50,493.50L108.10,493.50L108.70,493.50L109.30,493.50L109.90,493.50L110.50,493.50L111.10,493.50L111.70,493.50L112.30,493.50L112.90,493.50L113.50,493.50L114.10,493.50L114.70,493.50L115.30,493.50L115.90,493.50L116.50,493.50L117.10,493.50L117.70,493.50L118.30,493.50L118.90,493.50L119.50,493.50L120.10,493.50L120.70,493.50L121.30,493.50L121.90,493.50L122.50,493.50L123.10,493.50L123.70,493.50L124.30,493.50L124.90,493.50L125.50,493.50L126.10,493.50L126.70,493.50L127.30,493.50L127.90,493.50L128.50,493.50L129.10,493.50L129.70,493.50L130.30,493.50L130.90,493.50L131.50,493.50L132.10,493.50L132.70,493.50L133.30,493.50L133.90,493.50L134.50,493.50L135.10,493.50L135.70,493.50L136.30,493.50L136.90,493.50L137.50,493.50L138.10,493.50L138.70,493.50L139.30,493.50L139.90,493.50L140.50,493.50L141.10,493.50L141.70,493.50L142.30,493.50L142.90,493.50L143.50,493.50L144.10,493.50L144.70,493.50L145.30,493.50L145.90,493.50L146.50,493.50L147.10,493.50L147.70,493.50L148.30,493.50L148.90,493.50L149.50,493.50L150.10,493.50L150.70,493.50L151.30,493.50L151.90,493.50L152.50,493.50L153.10,493.50L153.70,493.50L154.30,493.50L154.90,493.50L155.50,493.50L156.10,493.50L156.70,493.50L157.30,493.50L157.90,493.50L158.50,493.50L159.10,493.50L159.70,493.50L160.30,493.50L160.90,493.50L161.50,493.50L162.10,493.50L162.70,493.50L163.30,493.50L163.90,493.50L164.50,493.50L165.10,493.50L165.70,493.50L166.30,493.50L166.90,493.50L167.50,493.50L168.10,493.50L168.70,493.50L169.30,493.50L169.90,493.50L170.50,493.50L171.10,493.50L171.70,493.50L172.30,493.50L172.90,493.50L173.50,493.50L174.10,493.50L174.70,493.50L175.30,493.50L175.90,493.50L176.50,493.50L177.10,493.50L177.70,493.50L178.30,493.50L178.90,493.50L179.50,493.50L180.10,493.50L180.70,493.50L181.30,493.50L181.90,493.50L182.50,493.50L183.10,493.50L183.70,493.50L184.30,493.50L184.90,493.50L185.50,493.50L186.10,493.50L186.70,493.50L187.30,493.50L187.90,493.50L188.50,493.50L189.10,493.50L189.70,493.50L190.30,493.50L190.90,493.50L191.50,493.50L192.10,493.50L192.70,493.50L193.30,493.50L193.90,493.50L194.50,493.50L195.10,493.50L195.70,493.50L196.30,493.50L196.90,493.50L197.50,493.50L198.10,493.50L198.70,493.50L199.30,493.50L199.90,493.50L200.50,493.50L201.10,493.50L201.70,493.50L202.30,493.50L202.90,493.50L203.50,493.50L204.10,493.50L204.70,493.50L205.30,493.50L205.90,493.50L206.50,493.50L207.10,493.50L207.70,493.50L208.30,493.50L208.90,493.50L209.50,493.50L210.10,493.50L210.70,493.50L211.30,493.50L211.90,493.50L212.50,493.50L213.10,493.50L213.70,493.50L214.30,493.50L214.90,493.50L215.50,493.50L216.10,493.50L216.70,493.50L217.30,493.50L217.90,493.50L218.29,493.50L218.30,473.31L218.50,472.96L219.10,472.64L219.70,474.03L220.30,473.39L220.90,472.19L221.50,472.80L222.10,472.44L222.70,474.34L223.30,472.17L223.90,473.08L224.50,474.83L225.10,470.66L225.70,473.82L226.30,472.61L226.90,470.35L227.50,473.63L228.10,472.81L228.70,472.43L229.30,471.86L229.90,471.78L230.50,472.65L231.10,472.97L231.70,472.54L232.30,472.79L232.90,472.81L233.50,471.60L234.10,472.61L234.70,471.43L235.30,472.86L235.90,472.09L236.50,471.65L237.10,471.95L237.70,470.11L238.30,473.12L238.90,470.33L239.50,471.89L240.10,472.36L240.70,469.86L241.30,471.61L241.90,473.05L242.50,469.36L243.10,470.75L243.70,471.80L244.30,468.53L244.90,471.70L245.50,471.41L246.10,469.64L246.70,471.41L247.30,471.46L247.90,472.20L248.50,469.19L249.10,471.64L249.70,468.85L250.30,470.42L250.90,470.50L251.50,470.38L252.10,467.90L252.70,469.11L253.30,469.42L253.90,470.34L254.50,470.45L255.10,469.67L255.70,467.78L256.30,469.90L256.90,469.54L257.50,470.62L258.10,468.50L258.70,470.58L259.30,468.49L259.90,468.66L260.50,468.13L261.10,469.21L261.70,467.54L262.30,451.73L262.90,388.89L263.50,309.40L263.98,309.40L264.10,309.40L264.70,312.94L265.30,410.99L265.90,445.09L266.50,460.97L267.10,460.09L267.70,463.93L268.30,463.44L268.90,466.25L269.50,466.93L270.10,467.89L270.70,466.11L271.30,467.85L271.90,467.37L272.50,464.99L273.10,467.75L273.70,466.18L274.30,468.74L274.90,466.68L275.50,468.27L276.10,464.64L276.70,455.84L277.30,411.85L277.90,309.40L278.50,309.40L278.54,309.40L279.10,309.40L279.70,387.27L280.30,440.59L280.90,455.50L281.50,459.06L282.10,458.65L282.70,461.98L283.30,461.76L283.90,461.47L284.50,463.84L285.10,461.44L285.70,464.09L286.30,462.82L286.90,463.38L287.50,466.78L288.10,463.03L288.70,466.30L289.30,463.88L289.90,464.77L290.50,462.95L291.10,465.26L291.70,462.36L292.30,466.13L292.90,463.77L293.50,464.81L294.10,463.41L294.70,465.18L295.30,464.91L295.90,464.76L296.50,465.98L297.10,462.57L297.70,464.83L298.30,464.05L298.90,464.62L299.50,465.28L300.10,464.75L300.70,463.75L301.30,465.95L301.90,464.85L302.50,462.92L303.10,463.92L303.59,464.61L303.60,493.50L303.70,493.50L304.30,493.50L304.90,493.50L305.50,493.50L306.10,493.50L306.70,493.50L307.30,493.50L307.90,493.50L308.50,493.50L309.10,493.50L309.70,493.50L310.30,493.50L310.90,493.50L311.50,493.50L312.10,493.50L312.70,493.50L313.30,493.50L313.90,493.50L314.50,493.50L315.10,493.50L315.70,493.50L316.30,493.50L316.90,493.50L317.50,493.50L318.10,493.50L318.70,493.50L319.30,493.50L319.90,493.50L320.50,493.50L321.10,493.50L321.70,493.50L322.30,493.50L322.90,493.50L323.50,493.50L324.10,493.50L324.70,493.50L325.30,493.50L325.90,493.50L326.50,493.50L327.10,493.50L327.70,493.50L328.30,493.50L328.90,493.50L329.50,493.50L330.10,493.50L330.70,493.50L331.30,493.50L331.90,493.50L332.50,493.50L333.10,493.50L333.70,493.50L334.30,493.50L334.90,493.50L335.50,493.50L336.10,493.50L336.70,493.50L337.30,493.50L337.90,493.50L338.50,493.50L339.10,493.50L339.70,493.50L340.30,493.50L340.90,493.50L341.50,493.50L342.10,493.50L342.70,493.50L343.30,493.50L343.90,493.50L344.50,493.50L345.10,493.50L345.70,493.50L346.30,493.50L346.90,493.50L347.50,493.50L348.10,493.50L348.70,493.50L349.30,493.50L349.90,493.50L350.50,493.50L351.10,493.50L351.70,493.50L352.30,493.50L352.90,493.50L353.50,493.50L354.10,493.50L354.70,493.50L355.30,493.50L355.90,493.50L356.50,493.50L357.10,493.50L357.70,493.50L358.30,493.50L358.90,493.50L359.50,493.50L360.10,493.50L360.70,493.50L361.30,493.50L361.90,493.50L362.50,493.50L363.10,493.50L363.70,493.50L364.30,493.50L364.90,493.50L365.50,493.50L366.10,493.50L366.70,493.50L367.30,493.50L367.90,493.50L368.50,493.50L369.10,493.50L369.70,493.50L370.30,493.50L370.90,493.50L371.50,493.50L372.10,493.50L372.70,493.50L373.30,493.50L373.90,493.50L374.50,493.50"/>
<line x1="59.50" y1="493.5" x2="218.29" y2="493.5" stroke="#cc96c8"/>
<line x1="59.50" y1="494.5" x2="218.29" y2="494.5" stroke="#efdcee"/>
<line x1="303.60" y1="493.5" x2="374.50" y2="493.5" stroke="#cc96c8"/>
<line x1="303.60" y1="494.5" x2="374.50" y2="494.5" stroke="#efdcee"/>
</g>
<line x1="64.5" y1="494.0" x2="64.5" y2="496.0" stroke="#7a7a7a" stroke-width="1"/>
<line x1="73.5" y1="494.0" x2="73.5" y2="496.0" stroke="#7a7a7a" stroke-width="1"/>
<line x1="82.5" y1="494.0" x2="82.5" y2="496.0" stroke="#7a7a7a" stroke-width="1"/>
<line x1="91.5" y1="494.0" x2="91.5" y2="496.0" stroke="#7a7a7a" stroke-width="1"/>
<line x1="100.5" y1="494.0" x2="100.5" y2="498.0" stroke="#7a7a7a" stroke-width="1"/>
<line x1="109.5" y1="494.0" x2="109.5" y2="496.0" stroke="#7a7a7a" stroke-width="1"/>
<line x1="118.5" y1="494.0" x2="118.5" y2="496.0" stroke="#7a7a7a" stroke-width="1"/>
<line x1="127.5" y1="494.0" x2="127.5" y2="496.0" stroke="#7a7a7a" stroke-width="1"/>
<line x1="136.5" y1="494.0" x2="136.5" y2="496.0" stroke="#7a7a7a" stroke-width="1"/>
<line x1="145.5" y1="494.0" x2="145.5" y2="498.0" stroke="#7a7a7a" stroke-width="1"/>
<line x1="154.5" y1="494.0" x2="154.5" y2="496.0" stroke="#7a7a7a" stroke-width="1"/>
<line x1="163.5" y1="494.0" x2="163.5" y2="496.0" stroke="#7a7a7a" stroke-width="1"/>
<line x1="172.5" y1="494.0" x2="172.5" y2="496.0" stroke="#7a7a7a" stroke-width="1"/>
<line x1="181.5" y1="494.0" x2="181.5" y2="496.0" stroke="#7a7a7a" stroke-width="1"/>
<line x1="190.5" y1="494.0" x2="190.5" y2="498.0" stroke="#7a7a7a" stroke-width="1"/>
<line x1="199.5" y1="494.0" x2="199.5" y2="496.0" stroke="#7a7a7a" stroke-width="1"/>
<line x1="208.5" y1="494.0" x2="208.5" y2="496.0" stroke="#7a7a7a" stroke-width="1"/>
<line x1="217.5" y1="494.0" x2="217.5" y2="496.0" stroke="#7a7a7a" stroke-width="1"/>
<line x1="226.5" y1="494.0" x2="226.5" y2="496.0" stroke="#7a7a7a" stroke-width="1"/>
<line x1="235.5" y1="494.0" x2="235.5" y2="498.0" stroke="#7a7a7a" stroke-width="1"/>
<line x1="244.5" y1="494.0" x2="244.5" y2="496.0" stroke="#7a7a7a" stroke-width="1"/>
<line x1="253.5" y1="494.0" x2="253.5" y2="496.0" stroke="#7a7a7a" stroke-width="1"/>
<line x1="262.5" y1="494.0" x2="262.5" y2="496.0" stroke="#7a7a7a" stroke-width="1"/>
<line x1="271.5" y1="494.0" x2="271.5" y2="496.0" stroke="#7a7a7a" stroke-width="1"/>
<line x1="280.5" y1="494.0" x2="280.5" y2="498.0" stroke="#7a7a7a" stroke-width="1"/>
<line x1="289.5" y1="494.0" x2="289.5" y2="496.0" stroke="#7a7a7a" stroke-width="1"/>
<line x1="298.5" y1="494.0" x2="298.5" y2="496.0" stroke="#7a7a7a" stroke-width="1"/>
<line x1="307.5" y1="494.0" x2="307.5" y2="496.0" stroke="#7a7a7a" stroke-width="1"/>
<line x1="316.5" y1="494.0" x2="316.5" y2="496.0" stroke="#7a7a7a" stroke-width="1"/>
<line x1="325.5" y1="494.0" x2="325.5" y2="498.0" stroke="#7a7a7a" stroke-width="1"/>
<line x1="334.5" y1="494.0" x2="334.5" y2="496.0" stroke="#7a7a7a" stroke-width="1"/>
<line x1="343.5" y1="494.0" x2="343.5" y2="496.0" stroke="#7a7a7a" stroke-width="1"/>
<line x1="352.5" y1="494.0" x2="352.5" y2="496.0" stroke="#7a7a7a" stroke-width="1"/>
<line x1="361.5" y1="494.0" x2="361.5" y2="496.0" stroke="#7a7a7a" stroke-width="1"/>
<line x1="370.5" y1="494.0" x2="370.5" y2="498.0" stroke="#7a7a7a" stroke-width="1"/></g></svg>
</body></html>
